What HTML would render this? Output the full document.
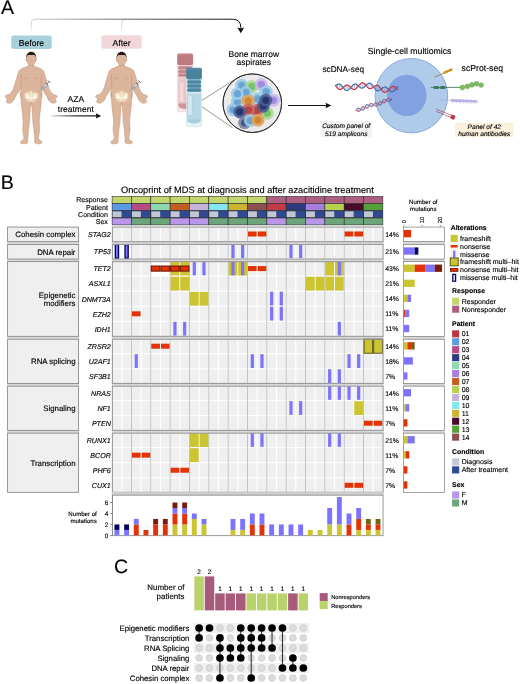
<!DOCTYPE html>
<html lang="en">
<head>
<meta charset="utf-8">
<title>Oncoprint of MDS at diagnosis and after azacitidine treatment</title>
<style>
html,body{margin:0;padding:0;background:#fff;}
body{width:520px;height:684px;overflow:hidden;font-family:"Liberation Sans",sans-serif;}
svg{display:block;}
svg text{stroke:#000;stroke-width:0.14px;}
</style>
</head>
<body>
<svg width="520" height="684" viewBox="0 0 520 684" font-family="'Liberation Sans', sans-serif" fill="#000" text-rendering="geometricPrecision">
<rect width="520" height="684" fill="#fff"/>
<text x="0.9" y="14.0" font-size="19.5" fill="#000">A</text>
<text x="0.7" y="188.8" font-size="19.5" fill="#000">B</text>
<text x="113.9" y="573.0" font-size="19.5" fill="#000">C</text>
<defs>
<linearGradient id="lg" gradientUnits="userSpaceOnUse" x1="30" y1="0" x2="235" y2="0"><stop offset="0" stop-color="#cfcfcf"/><stop offset="0.45" stop-color="#6a6a6a"/><stop offset="1" stop-color="#111"/></linearGradient>
<linearGradient id="fade" gradientUnits="userSpaceOnUse" x1="0" y1="19" x2="0" y2="33"><stop offset="0" stop-color="#bdbdbd"/><stop offset="0.6" stop-color="#d8d8d8"/><stop offset="1" stop-color="#ffffff"/></linearGradient>
<linearGradient id="arr" gradientUnits="userSpaceOnUse" x1="51" y1="0" x2="100" y2="0"><stop offset="0" stop-color="#111" stop-opacity="0.15"/><stop offset="0.5" stop-color="#111" stop-opacity="0.85"/><stop offset="1" stop-color="#111"/></linearGradient>
<radialGradient id="pelv" cx="0.5" cy="0.5" r="0.5"><stop offset="0" stop-color="#f6ecd0" stop-opacity="0.95"/><stop offset="0.6" stop-color="#efe0bc" stop-opacity="0.75"/><stop offset="1" stop-color="#e6d0ae" stop-opacity="0"/></radialGradient>
</defs>
<path d="M31.2 34V23.5Q31.2 19.2 36 19.2" fill="none" stroke="url(#fade)" stroke-width="0.9"/>
<path d="M121.7 34V23.5Q121.7 19.2 126 19.2" fill="none" stroke="url(#fade)" stroke-width="0.9"/>
<path d="M35.5 19.2H232.5Q240.8 19.2 240.8 27.5V29" fill="none" stroke="url(#lg)" stroke-width="1.0"/>
<path d="M237.4 27.6L240.8 33.2L244.2 27.6Q240.8 29.2 237.4 27.6Z" fill="#111"/>
<rect x="11.2" y="35.4" width="40.6" height="13.5" rx="2.4" fill="#a9d1dc"/>
<text x="31.5" y="45.5" font-size="8.6" text-anchor="middle" fill="#000">Before</text>
<rect x="101.3" y="35.2" width="40.4" height="13.6" rx="2.4" fill="#f1d7da"/>
<text x="121.6" y="45.5" font-size="8.6" text-anchor="middle" fill="#000">After</text>
<path d="M31.20 63.80C30.37 63.80 29.18 63.93 28.70 64.30C28.22 64.67 28.88 65.52 28.30 66.00C27.72 66.48 26.38 66.72 25.20 67.20C24.02 67.68 22.25 68.27 21.20 68.90C20.15 69.53 19.50 69.98 18.90 71.00C18.30 72.02 18.07 73.55 17.60 75.00C17.13 76.45 16.78 77.50 16.10 79.70C15.42 81.90 14.50 85.88 13.50 88.20C12.50 90.52 11.15 92.47 10.10 93.60C9.05 94.73 8.02 94.60 7.20 95.00C6.38 95.40 5.40 95.53 5.20 96.00C5.00 96.47 5.67 97.28 6.00 97.80C6.33 98.32 7.18 98.43 7.20 99.10C7.22 99.77 5.98 101.13 6.10 101.80C6.22 102.47 7.15 102.92 7.90 103.10C8.65 103.28 9.60 103.37 10.60 102.90C11.60 102.43 13.08 101.33 13.90 100.30C14.72 99.27 14.72 98.08 15.50 96.70C16.28 95.32 17.70 93.35 18.60 92.00C19.50 90.65 20.62 88.17 20.90 88.60C21.18 89.03 20.28 92.95 20.30 94.60C20.32 96.25 20.83 96.93 21.00 98.50C21.17 100.07 21.13 102.08 21.30 104.00C21.47 105.92 21.77 108.00 22.00 110.00C22.23 112.00 22.52 114.05 22.70 116.00C22.88 117.95 23.10 119.37 23.10 121.70C23.10 124.03 22.63 127.78 22.70 130.00C22.77 132.22 23.32 133.60 23.50 135.00C23.68 136.40 24.02 137.50 23.80 138.40C23.58 139.30 22.77 139.83 22.20 140.40C21.63 140.97 20.57 141.30 20.40 141.80C20.23 142.30 20.40 143.07 21.20 143.40C22.00 143.73 24.13 143.93 25.20 143.80C26.27 143.67 27.17 143.50 27.60 142.60C28.03 141.70 27.65 140.50 27.80 138.40C27.95 136.30 28.27 132.23 28.50 130.00C28.73 127.77 29.02 126.38 29.20 125.00C29.38 123.62 29.45 123.87 29.60 121.70C29.75 119.53 29.93 114.62 30.10 112.00C30.27 109.38 30.42 107.63 30.60 106.00C30.78 104.37 31.00 102.20 31.20 102.20C31.40 102.20 31.62 104.37 31.80 106.00C31.98 107.63 32.13 109.38 32.30 112.00C32.47 114.62 32.65 119.53 32.80 121.70C32.95 123.87 33.02 123.62 33.20 125.00C33.38 126.38 33.67 127.77 33.90 130.00C34.13 132.23 34.45 136.30 34.60 138.40C34.75 140.50 34.37 141.70 34.80 142.60C35.23 143.50 36.13 143.67 37.20 143.80C38.27 143.93 40.40 143.73 41.20 143.40C42.00 143.07 42.17 142.30 42.00 141.80C41.83 141.30 40.77 140.97 40.20 140.40C39.63 139.83 38.82 139.30 38.60 138.40C38.38 137.50 38.72 136.40 38.90 135.00C39.08 133.60 39.63 132.22 39.70 130.00C39.77 127.78 39.30 124.03 39.30 121.70C39.30 119.37 39.52 117.95 39.70 116.00C39.88 114.05 40.17 112.00 40.40 110.00C40.63 108.00 40.93 105.92 41.10 104.00C41.27 102.08 41.23 100.07 41.40 98.50C41.57 96.93 42.08 96.25 42.10 94.60C42.12 92.95 41.22 89.03 41.50 88.60C41.78 88.17 42.90 90.65 43.80 92.00C44.70 93.35 46.12 95.32 46.90 96.70C47.68 98.08 47.68 99.27 48.50 100.30C49.32 101.33 50.80 102.43 51.80 102.90C52.80 103.37 53.75 103.28 54.50 103.10C55.25 102.92 56.18 102.47 56.30 101.80C56.42 101.13 55.18 99.77 55.20 99.10C55.22 98.43 56.07 98.32 56.40 97.80C56.73 97.28 57.40 96.47 57.20 96.00C57.00 95.53 56.02 95.40 55.20 95.00C54.38 94.60 53.35 94.73 52.30 93.60C51.25 92.47 49.90 90.52 48.90 88.20C47.90 85.88 46.98 81.90 46.30 79.70C45.62 77.50 45.27 76.45 44.80 75.00C44.33 73.55 44.10 72.02 43.50 71.00C42.90 69.98 42.25 69.53 41.20 68.90C40.15 68.27 38.38 67.68 37.20 67.20C36.02 66.72 34.68 66.48 34.10 66.00C33.52 65.52 34.18 64.67 33.70 64.30C33.22 63.93 32.03 63.80 31.20 63.80Z" fill="#dbb59c" stroke="#b98c72" stroke-width="0.45" stroke-linejoin="round"/>
<path d="M31.2 102.2V105" stroke="#b98c72" stroke-width="0.5"/>
<ellipse cx="26.4" cy="59.8" rx="0.6" ry="1.3" fill="#dbb59c" stroke="#b98c72" stroke-width="0.3"/>
<ellipse cx="36.0" cy="59.8" rx="0.6" ry="1.3" fill="#dbb59c" stroke="#b98c72" stroke-width="0.3"/>
<path d="M20.9 88.6C21.6 84 21.6 79 20.799999999999997 74.2M41.5 88.6C40.8 84 40.8 79 41.6 74.2" fill="none" stroke="#b98c72" stroke-width="0.5"/>
<path d="M26.5 58.0C26.4 53.2 36.0 53.2 35.9 58.0C35.8 62.5 33.8 65.6 31.2 65.6C28.599999999999998 65.6 26.6 62.5 26.5 58.0Z" fill="#dbb59c" stroke="#b98c72" stroke-width="0.4"/>
<path d="M26.2 58.8C25.4 49.4 37.0 49.4 36.2 58.8C35.8 56.2 35.0 55.2 34.0 55.1C32.2 54.8 30.2 54.8 28.4 55.1C27.4 55.2 26.6 56.2 26.2 58.8Z" fill="#241b17"/>
<path d="M24.0 78.2Q26.4 79.6 28.599999999999998 78.4M38.4 78.2Q36.0 79.6 33.8 78.4" fill="none" stroke="#b98c72" stroke-width="0.45"/>
<circle cx="26.0" cy="77.1" r="0.4" fill="#b98a70"/><circle cx="36.4" cy="77.1" r="0.4" fill="#b98a70"/>
<path d="M20.6 92.5Q21.6 95.5 20.9 98.2M41.8 92.5Q40.8 95.5 41.5 98.2" fill="none" stroke="#b98c72" stroke-width="0.4"/>
<ellipse cx="31.2" cy="96.6" rx="8.4" ry="6.8" fill="url(#pelv)"/>
<path d="M25.0 92.3C26.799999999999997 90.8 29.0 92.6 29.9 95.4L32.5 95.4C33.4 92.6 35.6 90.8 37.4 92.3C37.8 95.0 36.4 97.0 34.6 97.6C34.8 99.4 33.4 100.6 31.8 99.8L30.599999999999998 99.8C29.0 100.6 27.599999999999998 99.4 27.8 97.6C26.0 97.0 24.6 95.0 25.0 92.3Z" fill="#f8f0d8" stroke="#e6d6ac" stroke-width="0.4" transform="translate(0 1.3)"/>
<path d="M31.2 91.6V96.5" stroke="#f4ead0" stroke-width="1.3" stroke-linecap="round"/>
<ellipse cx="27.0" cy="97.6" rx="1.5" ry="1.0" fill="#ffffff" opacity="0.9"/><ellipse cx="35.4" cy="97.6" rx="1.5" ry="1.0" fill="#ffffff" opacity="0.9"/>
<ellipse cx="29.5" cy="99.8" rx="0.8" ry="0.9" fill="#dbb59c" opacity="0.8"/><ellipse cx="32.9" cy="99.8" rx="0.8" ry="0.9" fill="#dbb59c" opacity="0.8"/>
<g transform="translate(38.8 92.0) rotate(-45)">
<path d="M0 0H3.6" stroke="#8a8f96" stroke-width="0.45"/>
<rect x="3.6" y="-1.25" width="7.6" height="2.5" rx="0.4" fill="#cfd5db" stroke="#6f757c" stroke-width="0.4"/>
<rect x="4.4" y="-0.85" width="3.2" height="1.7" fill="#9aa3ad"/>
<path d="M11.2 -1.9V1.9" stroke="#5d636a" stroke-width="0.7"/>
<path d="M11.2 0H14.6" stroke="#6f757c" stroke-width="0.8"/>
<path d="M14.7 -1.7V1.7" stroke="#4e545a" stroke-width="0.8"/>
</g>
<path d="M121.60 63.80C120.77 63.80 119.58 63.93 119.10 64.30C118.62 64.67 119.28 65.52 118.70 66.00C118.12 66.48 116.78 66.72 115.60 67.20C114.42 67.68 112.65 68.27 111.60 68.90C110.55 69.53 109.90 69.98 109.30 71.00C108.70 72.02 108.47 73.55 108.00 75.00C107.53 76.45 107.18 77.50 106.50 79.70C105.82 81.90 104.90 85.88 103.90 88.20C102.90 90.52 101.55 92.47 100.50 93.60C99.45 94.73 98.42 94.60 97.60 95.00C96.78 95.40 95.80 95.53 95.60 96.00C95.40 96.47 96.07 97.28 96.40 97.80C96.73 98.32 97.58 98.43 97.60 99.10C97.62 99.77 96.38 101.13 96.50 101.80C96.62 102.47 97.55 102.92 98.30 103.10C99.05 103.28 100.00 103.37 101.00 102.90C102.00 102.43 103.48 101.33 104.30 100.30C105.12 99.27 105.12 98.08 105.90 96.70C106.68 95.32 108.10 93.35 109.00 92.00C109.90 90.65 111.02 88.17 111.30 88.60C111.58 89.03 110.68 92.95 110.70 94.60C110.72 96.25 111.23 96.93 111.40 98.50C111.57 100.07 111.53 102.08 111.70 104.00C111.87 105.92 112.17 108.00 112.40 110.00C112.63 112.00 112.92 114.05 113.10 116.00C113.28 117.95 113.50 119.37 113.50 121.70C113.50 124.03 113.03 127.78 113.10 130.00C113.17 132.22 113.72 133.60 113.90 135.00C114.08 136.40 114.42 137.50 114.20 138.40C113.98 139.30 113.17 139.83 112.60 140.40C112.03 140.97 110.97 141.30 110.80 141.80C110.63 142.30 110.80 143.07 111.60 143.40C112.40 143.73 114.53 143.93 115.60 143.80C116.67 143.67 117.57 143.50 118.00 142.60C118.43 141.70 118.05 140.50 118.20 138.40C118.35 136.30 118.67 132.23 118.90 130.00C119.13 127.77 119.42 126.38 119.60 125.00C119.78 123.62 119.85 123.87 120.00 121.70C120.15 119.53 120.33 114.62 120.50 112.00C120.67 109.38 120.82 107.63 121.00 106.00C121.18 104.37 121.40 102.20 121.60 102.20C121.80 102.20 122.02 104.37 122.20 106.00C122.38 107.63 122.53 109.38 122.70 112.00C122.87 114.62 123.05 119.53 123.20 121.70C123.35 123.87 123.42 123.62 123.60 125.00C123.78 126.38 124.07 127.77 124.30 130.00C124.53 132.23 124.85 136.30 125.00 138.40C125.15 140.50 124.77 141.70 125.20 142.60C125.63 143.50 126.53 143.67 127.60 143.80C128.67 143.93 130.80 143.73 131.60 143.40C132.40 143.07 132.57 142.30 132.40 141.80C132.23 141.30 131.17 140.97 130.60 140.40C130.03 139.83 129.22 139.30 129.00 138.40C128.78 137.50 129.12 136.40 129.30 135.00C129.48 133.60 130.03 132.22 130.10 130.00C130.17 127.78 129.70 124.03 129.70 121.70C129.70 119.37 129.92 117.95 130.10 116.00C130.28 114.05 130.57 112.00 130.80 110.00C131.03 108.00 131.33 105.92 131.50 104.00C131.67 102.08 131.63 100.07 131.80 98.50C131.97 96.93 132.48 96.25 132.50 94.60C132.52 92.95 131.62 89.03 131.90 88.60C132.18 88.17 133.30 90.65 134.20 92.00C135.10 93.35 136.52 95.32 137.30 96.70C138.08 98.08 138.08 99.27 138.90 100.30C139.72 101.33 141.20 102.43 142.20 102.90C143.20 103.37 144.15 103.28 144.90 103.10C145.65 102.92 146.58 102.47 146.70 101.80C146.82 101.13 145.58 99.77 145.60 99.10C145.62 98.43 146.47 98.32 146.80 97.80C147.13 97.28 147.80 96.47 147.60 96.00C147.40 95.53 146.42 95.40 145.60 95.00C144.78 94.60 143.75 94.73 142.70 93.60C141.65 92.47 140.30 90.52 139.30 88.20C138.30 85.88 137.38 81.90 136.70 79.70C136.02 77.50 135.67 76.45 135.20 75.00C134.73 73.55 134.50 72.02 133.90 71.00C133.30 69.98 132.65 69.53 131.60 68.90C130.55 68.27 128.78 67.68 127.60 67.20C126.42 66.72 125.08 66.48 124.50 66.00C123.92 65.52 124.58 64.67 124.10 64.30C123.62 63.93 122.43 63.80 121.60 63.80Z" fill="#dbb59c" stroke="#b98c72" stroke-width="0.45" stroke-linejoin="round"/>
<path d="M121.6 102.2V105" stroke="#b98c72" stroke-width="0.5"/>
<ellipse cx="116.8" cy="59.8" rx="0.6" ry="1.3" fill="#dbb59c" stroke="#b98c72" stroke-width="0.3"/>
<ellipse cx="126.39999999999999" cy="59.8" rx="0.6" ry="1.3" fill="#dbb59c" stroke="#b98c72" stroke-width="0.3"/>
<path d="M111.3 88.6C112.0 84 112.0 79 111.19999999999999 74.2M131.9 88.6C131.2 84 131.2 79 132.0 74.2" fill="none" stroke="#b98c72" stroke-width="0.5"/>
<path d="M116.89999999999999 58.0C116.8 53.2 126.39999999999999 53.2 126.3 58.0C126.19999999999999 62.5 124.19999999999999 65.6 121.6 65.6C119.0 65.6 117.0 62.5 116.89999999999999 58.0Z" fill="#dbb59c" stroke="#b98c72" stroke-width="0.4"/>
<path d="M116.6 58.8C115.8 49.4 127.39999999999999 49.4 126.6 58.8C126.19999999999999 56.2 125.39999999999999 55.2 124.39999999999999 55.1C122.6 54.8 120.6 54.8 118.8 55.1C117.8 55.2 117.0 56.2 116.6 58.8Z" fill="#241b17"/>
<path d="M114.39999999999999 78.2Q116.8 79.6 119.0 78.4M128.79999999999998 78.2Q126.39999999999999 79.6 124.19999999999999 78.4" fill="none" stroke="#b98c72" stroke-width="0.45"/>
<circle cx="116.39999999999999" cy="77.1" r="0.4" fill="#b98a70"/><circle cx="126.8" cy="77.1" r="0.4" fill="#b98a70"/>
<path d="M111.0 92.5Q112.0 95.5 111.3 98.2M132.2 92.5Q131.2 95.5 131.9 98.2" fill="none" stroke="#b98c72" stroke-width="0.4"/>
<ellipse cx="121.6" cy="96.6" rx="8.4" ry="6.8" fill="url(#pelv)"/>
<path d="M115.39999999999999 92.3C117.19999999999999 90.8 119.39999999999999 92.6 120.3 95.4L122.89999999999999 95.4C123.8 92.6 126.0 90.8 127.8 92.3C128.2 95.0 126.8 97.0 125.0 97.6C125.19999999999999 99.4 123.8 100.6 122.19999999999999 99.8L121.0 99.8C119.39999999999999 100.6 118.0 99.4 118.19999999999999 97.6C116.39999999999999 97.0 115.0 95.0 115.39999999999999 92.3Z" fill="#f8f0d8" stroke="#e6d6ac" stroke-width="0.4" transform="translate(0 1.3)"/>
<path d="M121.6 91.6V96.5" stroke="#f4ead0" stroke-width="1.3" stroke-linecap="round"/>
<ellipse cx="117.39999999999999" cy="97.6" rx="1.5" ry="1.0" fill="#ffffff" opacity="0.9"/><ellipse cx="125.8" cy="97.6" rx="1.5" ry="1.0" fill="#ffffff" opacity="0.9"/>
<ellipse cx="119.89999999999999" cy="99.8" rx="0.8" ry="0.9" fill="#dbb59c" opacity="0.8"/><ellipse cx="123.3" cy="99.8" rx="0.8" ry="0.9" fill="#dbb59c" opacity="0.8"/>
<g transform="translate(129.2 92.0) rotate(-45)">
<path d="M0 0H3.6" stroke="#8a8f96" stroke-width="0.45"/>
<rect x="3.6" y="-1.25" width="7.6" height="2.5" rx="0.4" fill="#cfd5db" stroke="#6f757c" stroke-width="0.4"/>
<rect x="4.4" y="-0.85" width="3.2" height="1.7" fill="#9aa3ad"/>
<path d="M11.2 -1.9V1.9" stroke="#5d636a" stroke-width="0.7"/>
<path d="M11.2 0H14.6" stroke="#6f757c" stroke-width="0.8"/>
<path d="M14.7 -1.7V1.7" stroke="#4e545a" stroke-width="0.8"/>
</g>
<text x="75.8" y="102.4" font-size="8.5" text-anchor="middle" fill="#000">AZA</text>
<text x="75.8" y="111.6" font-size="8.5" text-anchor="middle" fill="#000">treatment</text>
<path d="M51.5 115.9H97.5" stroke="url(#arr)" stroke-width="1.35" fill="none"/>
<path d="M95.8 113.2L101.2 115.9L95.8 118.6Q97.1 115.9 95.8 113.2Z" fill="#111"/>
<rect x="177.4" y="64.2" width="15.5" height="47.6" rx="1.6" fill="#f6e3e5" stroke="#e3bfc3" stroke-width="0.4"/>
<path d="M178.4 77.4H191.9V104.5Q191.9 108.9 185.2 108.9Q178.4 108.9 178.4 104.5Z" fill="#ecc6ca"/>
<path d="M178.4 103.5H191.9V104.5Q191.9 108.9 185.2 108.9Q178.4 108.9 178.4 104.5Z" fill="#cf949a"/>
<rect x="179.3" y="81.5" width="4.6" height="20.5" rx="0.8" fill="#f3d9dc" stroke="#dcaeb3" stroke-width="0.4"/>
<rect x="178.6" y="65.5" width="13.1" height="11.4" fill="#e2b4b8"/>
<rect x="178.2" y="66.6" width="13.9" height="2.7" rx="1.1" fill="#c4858a"/><rect x="178.2" y="70.2" width="13.9" height="2.7" rx="1.1" fill="#c4858a"/><rect x="178.2" y="73.8" width="13.9" height="2.7" rx="1.1" fill="#c4858a"/>
<rect x="177.2" y="53.5" width="15.9" height="11.6" rx="1.5" fill="#c07a7f"/>
<path d="M177.2 55.2Q185.2 53.3 193.1 55.2" stroke="#cf9498" stroke-width="0.6" fill="none"/>
<rect x="186.3" y="78.5" width="15.5" height="48.2" rx="1.6" fill="#e6f2f6" stroke="#b7d6e0" stroke-width="0.4"/>
<path d="M187.1 93.6H201.0V119.0Q201.0 123.4 194.1 123.4Q187.1 123.4 187.1 119.0Z" fill="#b7d9e5"/>
<path d="M187.1 119.6H201.0Q201.0 123.4 194.1 123.4Q187.1 123.4 187.1 119.6Z" fill="#a6cfdd"/>
<rect x="187.6" y="95.0" width="4.6" height="20.6" rx="0.8" fill="#d4e9f0" stroke="#9bc3d2" stroke-width="0.45"/>
<rect x="187.6" y="79.0" width="13.0" height="13.2" fill="#86b2c6"/>
<rect x="187.2" y="80.4" width="13.8" height="3.0" rx="1.2" fill="#4d86a1"/><rect x="187.2" y="84.4" width="13.8" height="3.0" rx="1.2" fill="#4d86a1"/><rect x="187.2" y="88.4" width="13.8" height="3.0" rx="1.2" fill="#4d86a1"/>
<rect x="186.2" y="67.8" width="15.7" height="11.2" rx="1.5" fill="#4a819c"/>
<path d="M186.2 69.6Q194.1 67.6 201.9 69.6" stroke="#6a9db5" stroke-width="0.6" fill="none"/>
<path d="M201.9 100.4L233.5 80.2M201.9 106.8L232.5 127.6" stroke="#444" stroke-width="0.55" fill="none"/>
<circle cx="252.3" cy="103.2" r="29.3" fill="#ebebeb" stroke="#222" stroke-width="0.8"/>
<circle cx="233.0" cy="109.7" r="6.3" fill="#9fcde8" fill-opacity="0.9" stroke="#6fa9d3" stroke-opacity="0.35" stroke-width="0.5"/><circle cx="233.0" cy="109.7" r="3.8" fill="#6fa9d3"/><circle cx="233.0" cy="109.7" r="2.2" fill="#5d9bc9" fill-opacity="0.35"/>
<circle cx="237.4" cy="101.8" r="6.3" fill="#9fcde8" fill-opacity="0.9" stroke="#6fa9d3" stroke-opacity="0.35" stroke-width="0.5"/><circle cx="237.4" cy="101.8" r="3.8" fill="#6fa9d3"/><circle cx="237.4" cy="101.8" r="2.2" fill="#5d9bc9" fill-opacity="0.35"/>
<circle cx="241.7" cy="85.2" r="6.3" fill="#9fcde8" fill-opacity="0.9" stroke="#6fa9d3" stroke-opacity="0.35" stroke-width="0.5"/><circle cx="241.7" cy="85.2" r="3.8" fill="#6fa9d3"/><circle cx="241.7" cy="85.2" r="2.2" fill="#5d9bc9" fill-opacity="0.35"/>
<circle cx="251.8" cy="86.6" r="6.3" fill="#a6dd95" fill-opacity="0.9" stroke="#7dc56c" stroke-opacity="0.35" stroke-width="0.5"/><circle cx="251.8" cy="86.6" r="3.8" fill="#7dc56c"/><circle cx="251.8" cy="86.6" r="2.2" fill="#6ab85a" fill-opacity="0.35"/>
<circle cx="261.2" cy="84.5" r="6.3" fill="#cbb9f0" fill-opacity="0.9" stroke="#a68fe2" stroke-opacity="0.35" stroke-width="0.5"/><circle cx="261.2" cy="84.5" r="3.8" fill="#a68fe2"/><circle cx="261.2" cy="84.5" r="2.2" fill="#957cd8" fill-opacity="0.35"/>
<circle cx="266.2" cy="91.7" r="6.3" fill="#9fcde8" fill-opacity="0.9" stroke="#6fa9d3" stroke-opacity="0.35" stroke-width="0.5"/><circle cx="266.2" cy="91.7" r="3.8" fill="#6fa9d3"/><circle cx="266.2" cy="91.7" r="2.2" fill="#5d9bc9" fill-opacity="0.35"/>
<circle cx="273.4" cy="100.3" r="6.3" fill="#cbb9f0" fill-opacity="0.9" stroke="#a68fe2" stroke-opacity="0.35" stroke-width="0.5"/><circle cx="273.4" cy="100.3" r="3.8" fill="#a68fe2"/><circle cx="273.4" cy="100.3" r="2.2" fill="#957cd8" fill-opacity="0.35"/>
<circle cx="257.5" cy="98.9" r="6.3" fill="#9fcde8" fill-opacity="0.9" stroke="#6fa9d3" stroke-opacity="0.35" stroke-width="0.5"/><circle cx="257.5" cy="98.9" r="3.8" fill="#6fa9d3"/><circle cx="257.5" cy="98.9" r="2.2" fill="#5d9bc9" fill-opacity="0.35"/>
<circle cx="246.0" cy="92.4" r="6.3" fill="#9fcde8" fill-opacity="0.9" stroke="#6fa9d3" stroke-opacity="0.35" stroke-width="0.5"/><circle cx="246.0" cy="92.4" r="3.8" fill="#6fa9d3"/><circle cx="246.0" cy="92.4" r="2.2" fill="#5d9bc9" fill-opacity="0.35"/>
<circle cx="237.4" cy="93.8" r="6.3" fill="#9fcde8" fill-opacity="0.9" stroke="#6fa9d3" stroke-opacity="0.35" stroke-width="0.5"/><circle cx="237.4" cy="93.8" r="3.8" fill="#6fa9d3"/><circle cx="237.4" cy="93.8" r="2.2" fill="#5d9bc9" fill-opacity="0.35"/>
<circle cx="248.2" cy="101.0" r="6.3" fill="#e3a455" fill-opacity="0.9" stroke="#d28a3a" stroke-opacity="0.35" stroke-width="0.5"/><circle cx="248.2" cy="101.0" r="3.8" fill="#d28a3a"/><circle cx="248.2" cy="101.0" r="2.2" fill="#c77d30" fill-opacity="0.35"/>
<circle cx="267.2" cy="113.3" r="6.3" fill="#a6dd95" fill-opacity="0.9" stroke="#7dc56c" stroke-opacity="0.35" stroke-width="0.5"/><circle cx="267.2" cy="113.3" r="3.8" fill="#7dc56c"/><circle cx="267.2" cy="113.3" r="2.2" fill="#6ab85a" fill-opacity="0.35"/>
<circle cx="256.8" cy="110.4" r="6.3" fill="#cb6868" fill-opacity="0.9" stroke="#b64a4a" stroke-opacity="0.35" stroke-width="0.5"/><circle cx="256.8" cy="110.4" r="3.8" fill="#b64a4a"/><circle cx="256.8" cy="110.4" r="2.2" fill="#a83e3e" fill-opacity="0.35"/>
<circle cx="248.5" cy="110.0" r="6.3" fill="#cb6868" fill-opacity="0.9" stroke="#b64a4a" stroke-opacity="0.35" stroke-width="0.5"/><circle cx="248.5" cy="110.0" r="3.8" fill="#b64a4a"/><circle cx="248.5" cy="110.0" r="2.2" fill="#a83e3e" fill-opacity="0.35"/>
<circle cx="239.8" cy="111.9" r="6.3" fill="#4d5d93" fill-opacity="0.9" stroke="#2c3a72" stroke-opacity="0.35" stroke-width="0.5"/><circle cx="239.8" cy="111.9" r="3.8" fill="#2c3a72"/><circle cx="239.8" cy="111.9" r="2.2" fill="#222f63" fill-opacity="0.35"/>
<circle cx="263.3" cy="106.1" r="6.3" fill="#4d5d93" fill-opacity="0.9" stroke="#2c3a72" stroke-opacity="0.35" stroke-width="0.5"/><circle cx="263.3" cy="106.1" r="3.8" fill="#2c3a72"/><circle cx="263.3" cy="106.1" r="2.2" fill="#222f63" fill-opacity="0.35"/>
<circle cx="265.8" cy="100.3" r="6.3" fill="#4d5d93" fill-opacity="0.9" stroke="#2c3a72" stroke-opacity="0.35" stroke-width="0.5"/><circle cx="265.8" cy="100.3" r="3.8" fill="#2c3a72"/><circle cx="265.8" cy="100.3" r="2.2" fill="#222f63" fill-opacity="0.35"/>
<circle cx="244.6" cy="122.7" r="6.3" fill="#7784a8" fill-opacity="0.9" stroke="#4b5a88" stroke-opacity="0.35" stroke-width="0.5"/><circle cx="244.6" cy="122.7" r="3.8" fill="#4b5a88"/><circle cx="244.6" cy="122.7" r="2.2" fill="#3c4a78" fill-opacity="0.35"/>
<circle cx="250.3" cy="120.5" r="6.3" fill="#9fcde8" fill-opacity="0.9" stroke="#6fa9d3" stroke-opacity="0.35" stroke-width="0.5"/><circle cx="250.3" cy="120.5" r="3.8" fill="#6fa9d3"/><circle cx="250.3" cy="120.5" r="2.2" fill="#5d9bc9" fill-opacity="0.35"/>
<circle cx="258.0" cy="120.2" r="6.3" fill="#e3a455" fill-opacity="0.9" stroke="#d28a3a" stroke-opacity="0.35" stroke-width="0.5"/><circle cx="258.0" cy="120.2" r="3.8" fill="#d28a3a"/><circle cx="258.0" cy="120.2" r="2.2" fill="#c77d30" fill-opacity="0.35"/>
<circle cx="252.3" cy="103.2" r="29.3" fill="none" stroke="#222" stroke-width="0.8"/>
<text x="253.8" y="57.3" font-size="8.5" text-anchor="middle" fill="#000">Bone marrow</text>
<text x="253.8" y="65.4" font-size="8.5" text-anchor="middle" fill="#000">aspirates</text>
<path d="M288 105.5H327" stroke="#111" stroke-width="1.2"/>
<path d="M325.6 102.8L331.3 105.5L325.6 108.2Q326.9 105.5 325.6 102.8Z" fill="#111"/>
<ellipse cx="411.4" cy="95.7" rx="36.3" ry="37.2" fill="#b0cbe9" stroke="#7fa4de" stroke-width="0.9"/>
<ellipse cx="406.8" cy="95.4" rx="19.7" ry="20.6" fill="#82a1e0"/>
<text x="409.6" y="54.0" font-size="8.7" text-anchor="middle" fill="#000">Single-cell multiomics</text>
<text x="322.4" y="71.6" font-size="8.25" fill="#000">scDNA-seq</text>
<text x="461.6" y="71.4" font-size="8.7" fill="#000">scProt-seq</text>
<g transform="translate(335.6 85.6) rotate(2.76)" fill="none" stroke-linecap="round">
<path d="M1.90 2.41V-1.41M3.80 3.66V-1.74M5.70 3.24V-0.58M9.50 -0.21V3.60M11.40 -1.04V4.36M13.30 -0.43V3.39M17.10 2.66V-1.16M19.00 2.97V-2.43M20.90 1.67V-2.15M24.70 -3.05V0.77M26.60 -4.16V1.24M28.50 -3.56V0.26M32.30 0.32V-3.50M34.20 1.36V-4.04M36.10 0.93V-2.89M39.90 -1.94V1.88M41.80 -2.23V3.17M43.70 -0.98V2.84M47.50 3.48V-0.34M49.40 4.39V-1.01M51.30 3.57V-0.24M55.10 -0.73V3.09M57.00 -1.93V3.47M58.90 -1.62V2.20" stroke="#8a7fb0" stroke-width="0.57"/>
<path d="M0.00 0.00L0.50 -0.42L1.00 -0.82L1.51 -1.18L2.01 -1.47L2.51 -1.67L3.01 -1.78L3.52 -1.79L4.02 -1.69L4.52 -1.47L5.02 -1.16L5.52 -0.75L6.03 -0.26L6.53 0.30L7.03 0.89L7.53 1.50L8.04 2.10L8.54 2.68L9.04 3.19L9.54 3.64L10.04 3.99L10.55 4.23L11.05 4.35L11.55 4.34L12.05 4.21L12.55 3.96L13.06 3.60L13.56 3.14L14.06 2.59L14.56 1.98L15.07 1.34L15.57 0.68L16.07 0.03L16.57 -0.58L17.07 -1.14L17.58 -1.61L18.08 -2.00L18.58 -2.28L19.08 -2.45L19.59 -2.51L20.09 -2.46L20.59 -2.29L21.09 -2.04L21.59 -1.71L22.10 -1.32L22.60 -0.90L23.10 -0.46L23.60 -0.03L24.11 0.37L24.61 0.71L25.11 0.98L25.61 1.17L26.11 1.25L26.62 1.23L27.12 1.11L27.62 0.88L28.12 0.56L28.63 0.15L29.13 -0.33L29.63 -0.85L30.13 -1.40L30.63 -1.95L31.14 -2.48L31.64 -2.97L32.14 -3.38L32.64 -3.72L33.14 -3.94L33.65 -4.06L34.15 -4.05L34.65 -3.92L35.15 -3.67L35.66 -3.30L36.16 -2.83L36.66 -2.27L37.16 -1.65L37.66 -0.98L38.17 -0.30L38.67 0.38L39.17 1.04L39.67 1.64L40.18 2.16L40.68 2.60L41.18 2.93L41.68 3.14L42.18 3.24L42.69 3.22L43.19 3.08L43.69 2.85L44.19 2.52L44.70 2.13L45.20 1.69L45.70 1.22L46.20 0.74L46.70 0.29L47.21 -0.13L47.71 -0.48L48.21 -0.75L48.71 -0.93L49.22 -1.01L49.72 -0.98L50.22 -0.85L50.72 -0.62L51.22 -0.30L51.73 0.09L52.23 0.54L52.73 1.03L53.23 1.52L53.73 2.01L54.24 2.46L54.74 2.85L55.24 3.17L55.74 3.40L56.25 3.52L56.75 3.52L57.25 3.40L57.75 3.16L58.25 2.81L58.76 2.35L59.26 1.80L59.76 1.19L60.26 0.52L60.77 -0.17L61.27 -0.86L61.77 -1.52L62.27 -2.14" stroke="#2f6fb2" stroke-width="1.15"/>
<path d="M0.00 0.00L0.50 0.69L1.00 1.36L1.51 1.97L2.01 2.52L2.51 2.98L3.01 3.33L3.52 3.57L4.02 3.69L4.52 3.69L5.02 3.57L5.52 3.34L6.03 3.01L6.53 2.61L7.03 2.15L7.53 1.65L8.04 1.14L8.54 0.64L9.04 0.17L9.54 -0.25L10.04 -0.59L10.55 -0.84L11.05 -0.99L11.55 -1.04L12.05 -0.99L12.55 -0.83L13.06 -0.58L13.56 -0.25L14.06 0.14L14.56 0.58L15.07 1.04L15.57 1.50L16.07 1.93L16.57 2.32L17.07 2.64L17.58 2.88L18.08 3.01L18.58 3.04L19.08 2.94L19.59 2.73L20.09 2.41L20.59 1.98L21.09 1.46L21.59 0.87L22.10 0.22L22.60 -0.45L23.10 -1.13L23.60 -1.79L24.11 -2.41L24.61 -2.96L25.11 -3.43L25.61 -3.79L26.11 -4.04L26.62 -4.17L27.12 -4.17L27.62 -4.05L28.12 -3.81L28.63 -3.47L29.13 -3.04L29.63 -2.54L30.13 -2.00L30.63 -1.43L31.14 -0.86L31.64 -0.32L32.14 0.17L32.64 0.60L33.14 0.95L33.65 1.20L34.15 1.35L34.65 1.39L35.15 1.32L35.66 1.15L36.16 0.90L36.66 0.57L37.16 0.18L37.66 -0.24L38.17 -0.67L38.67 -1.09L39.17 -1.48L39.67 -1.81L40.18 -2.07L40.68 -2.23L41.18 -2.30L41.68 -2.25L42.18 -2.09L42.69 -1.82L43.19 -1.45L43.69 -0.98L44.19 -0.44L44.70 0.16L45.20 0.79L45.70 1.44L46.20 2.07L46.70 2.67L47.21 3.20L47.71 3.66L48.21 4.01L48.71 4.26L49.22 4.38L49.72 4.38L50.22 4.25L50.72 4.00L51.22 3.64L51.73 3.18L52.23 2.65L52.73 2.07L53.23 1.45L53.73 0.82L54.24 0.21L54.74 -0.35L55.24 -0.86L55.74 -1.29L56.25 -1.62L56.75 -1.85L57.25 -1.97L57.75 -1.98L58.25 -1.88L58.76 -1.69L59.26 -1.41L59.76 -1.06L60.26 -0.66L60.77 -0.24L61.27 0.18L61.77 0.59L62.27 0.95" stroke="#c8323c" stroke-width="1.15"/>
</g>
<g transform="translate(356.3 110.0) rotate(-16.71)" fill="none" stroke-linecap="round">
<path d="M1.12 1.43V-0.97M2.25 2.12V-1.28M3.38 1.76V-0.65M5.62 -0.65V1.76M6.75 -1.28V2.12M7.88 -0.97V1.43M10.12 0.97V-1.43M11.25 1.28V-2.12M12.38 0.65V-1.76M14.62 -1.76V0.65M15.75 -2.12V1.28M16.88 -1.43V0.97M19.12 1.43V-0.97M20.25 2.12V-1.28M21.38 1.76V-0.65M23.62 -0.65V1.76M24.75 -1.28V2.12M25.88 -0.97V1.43M28.12 0.97V-1.43M29.25 1.28V-2.12M30.38 0.65V-1.76M32.62 -1.76V0.65M33.75 -2.12V1.28M34.88 -1.43V0.97" stroke="#8a7fb0" stroke-width="0.42"/>
<path d="M0.00 0.00L0.50 -0.48L1.01 -0.89L1.51 -1.18L2.02 -1.29L2.52 -1.21L3.03 -0.93L3.53 -0.50L4.04 0.05L4.54 0.65L5.05 1.22L5.55 1.70L6.06 2.02L6.56 2.14L7.07 2.03L7.57 1.71L8.08 1.21L8.58 0.57L9.09 -0.12L9.59 -0.81L10.10 -1.40L10.60 -1.85L11.11 -2.09L11.61 -2.12L12.12 -1.93L12.62 -1.55L13.13 -1.03L13.63 -0.44L14.14 0.15L14.64 0.66L15.15 1.05L15.65 1.26L16.16 1.27L16.66 1.10L17.17 0.76L17.67 0.32L18.18 -0.17L18.68 -0.64L19.19 -1.01L19.69 -1.24L20.20 -1.28L20.70 -1.13L21.21 -0.80L21.71 -0.31L22.22 0.26L22.72 0.86L23.23 1.41L23.73 1.83L24.23 2.08L24.74 2.13L25.24 1.94L25.75 1.56L26.25 1.00L26.76 0.33L27.26 -0.37L27.77 -1.03L28.27 -1.58L28.78 -1.96L29.28 -2.13L29.79 -2.08L30.29 -1.82L30.80 -1.38L31.30 -0.83L31.81 -0.23L32.31 0.34L32.82 0.82L33.32 1.14L33.83 1.28L34.33 1.23L34.84 1.00L35.34 0.62L35.85 0.15L36.35 -0.34L36.86 -0.78" stroke="#2f6fb2" stroke-width="0.85"/>
<path d="M0.00 0.00L0.50 0.69L1.01 1.31L1.51 1.78L2.02 2.07L2.52 2.13L3.03 1.98L3.53 1.63L4.04 1.13L4.54 0.55L5.05 -0.05L5.55 -0.58L6.06 -0.99L6.56 -1.23L7.07 -1.28L7.57 -1.14L8.08 -0.83L8.58 -0.40L9.09 0.09L9.59 0.56L10.10 0.95L10.60 1.21L11.11 1.29L11.61 1.17L12.12 0.87L12.62 0.41L13.13 -0.16L13.63 -0.76L14.14 -1.32L14.64 -1.77L15.15 -2.06L15.65 -2.13L16.16 -1.99L16.66 -1.64L17.17 -1.11L17.67 -0.46L18.18 0.25L18.68 0.92L19.19 1.49L19.69 1.91L20.20 2.11L20.70 2.10L21.21 1.88L21.71 1.47L22.22 0.93L22.72 0.34L23.23 -0.24L23.73 -0.74L24.23 -1.10L24.74 -1.27L25.24 -1.25L25.75 -1.05L26.25 -0.69L26.76 -0.23L27.26 0.26L27.77 0.71L28.27 1.06L28.78 1.26L29.28 1.27L29.79 1.09L30.29 0.72L30.80 0.22L31.30 -0.37L31.81 -0.96L32.31 -1.49L32.82 -1.89L33.32 -2.11L33.83 -2.11L34.33 -1.89L34.84 -1.47L35.34 -0.89L35.85 -0.21L36.35 0.49L36.86 1.13" stroke="#c8323c" stroke-width="0.85"/>
</g>
<rect x="320.4" y="121.0" width="51.5" height="16.2" fill="#f3f3f6"/>
<text x="346.2" y="128.4" font-size="6.6" font-style="italic" text-anchor="middle" fill="#000">Custom panel of</text>
<text x="346.2" y="135.5" font-size="6.6" font-style="italic" text-anchor="middle" fill="#000">519 amplicons</text>
<rect x="455.1" y="122.7" width="58.5" height="14.4" fill="#fbf0dc"/>
<text x="484.3" y="128.7" font-size="6.6" font-style="italic" text-anchor="middle" fill="#000">Panel of  42</text>
<text x="484.3" y="136.2" font-size="6.6" font-style="italic" text-anchor="middle" fill="#000">human antibodies</text>
<path d="M434.4 77.3L445 72.4" stroke="#8a6410" stroke-width="0.65"/>
<path d="M444.4 72.7L451.4 69.6" stroke="#d6911c" stroke-width="2.5" stroke-linecap="round"/>
<path d="M430.8 87.4H461" stroke="#2f6f52" stroke-width="0.8"/>
<rect x="433.4" y="85.9" width="5.9" height="3.0" rx="1.5" fill="#3b7a5c"/><rect x="439.8" y="85.9" width="5.8" height="3.0" rx="1.5" fill="#3b7a5c"/>
<circle cx="462.4" cy="87.5" r="2.45" fill="#7db95e" stroke="#62a04a" stroke-width="0.4"/>
<circle cx="467.3" cy="86.4" r="2.45" fill="#7db95e" stroke="#62a04a" stroke-width="0.4"/>
<circle cx="471.9" cy="84.9" r="2.45" fill="#7db95e" stroke="#62a04a" stroke-width="0.4"/>
<circle cx="476.5" cy="83.8" r="2.45" fill="#7db95e" stroke="#62a04a" stroke-width="0.4"/>
<circle cx="481.2" cy="85.1" r="2.45" fill="#7db95e" stroke="#62a04a" stroke-width="0.4"/>
<path d="M439.6 99.7L452 100.3" stroke="#b5a6e0" stroke-width="0.7"/>
<path d="M451 99.0L476.5 100.2L478 101.3L476.5 102.6L451 101.8Z" fill="#b9aee6"/>
<path d="M452.0 98.6L452.5 103.4M453.9 99.5L454.4 102.7M455.8 98.8L456.3 103.6M457.7 99.6L458.2 102.8M459.6 98.9L460.1 103.7M461.5 99.8L462.0 103.0M463.4 99.1L463.9 103.9M465.3 99.9L465.8 103.1M467.2 99.2L467.7 104.0M469.1 100.1L469.6 103.3M471.0 99.4L471.5 104.2M472.9 100.2L473.4 103.4M474.8 99.5L475.3 104.3M476.7 100.4L477.2 103.6" stroke="#c3b6e8" stroke-width="0.6"/>
<path d="M436.0 111.3L451.4 117.7M436.4 109.2L452.0 115.6" stroke="#9a2f40" stroke-width="0.6"/>
<rect x="0" y="-2.1" width="4.4" height="4.2" rx="0.6" transform="translate(450.8 116.3) rotate(22)" fill="#c2364a"/>
<text x="247.4" y="193.3" font-size="9.27" text-anchor="middle" fill="#000">Oncoprint of MDS at diagnosis and after azacitidine treatment</text>
<text x="107.9" y="202.45" font-size="7.05" text-anchor="end">Response</text>
<text x="107.9" y="209.65" font-size="7.05" text-anchor="end">Patient</text>
<text x="107.9" y="216.85" font-size="7.05" text-anchor="end">Condition</text>
<text x="107.9" y="224.05" font-size="7.05" text-anchor="end">Sex</text>
<rect x="112.10" y="196.4" width="19.34" height="6.9" fill="#c1d66c" stroke="#222" stroke-width="0.55"/>
<rect x="112.10" y="203.6" width="19.34" height="6.9" fill="#5b9be3" stroke="#222" stroke-width="0.55"/>
<rect x="112.10" y="210.8" width="19.34" height="6.9" fill="#2f4a92" stroke="#222" stroke-width="0.55"/>
<rect x="112.60" y="211.35" width="8.92" height="5.80" fill="#c3c7d2"/>
<rect x="112.10" y="218.0" width="19.34" height="6.9" fill="#b896ea" stroke="#222" stroke-width="0.55"/>
<rect x="131.44" y="196.4" width="19.34" height="6.9" fill="#c1d66c" stroke="#222" stroke-width="0.55"/>
<rect x="131.44" y="203.6" width="19.34" height="6.9" fill="#b54a84" stroke="#222" stroke-width="0.55"/>
<rect x="131.44" y="210.8" width="19.34" height="6.9" fill="#2f4a92" stroke="#222" stroke-width="0.55"/>
<rect x="131.94" y="211.35" width="8.92" height="5.80" fill="#c3c7d2"/>
<rect x="131.44" y="218.0" width="19.34" height="6.9" fill="#6da57a" stroke="#222" stroke-width="0.55"/>
<rect x="150.78" y="196.4" width="19.34" height="6.9" fill="#c1d66c" stroke="#222" stroke-width="0.55"/>
<rect x="150.78" y="203.6" width="19.34" height="6.9" fill="#8fd9b2" stroke="#222" stroke-width="0.55"/>
<rect x="150.78" y="210.8" width="19.34" height="6.9" fill="#2f4a92" stroke="#222" stroke-width="0.55"/>
<rect x="151.28" y="211.35" width="8.92" height="5.80" fill="#c3c7d2"/>
<rect x="150.78" y="218.0" width="19.34" height="6.9" fill="#6da57a" stroke="#222" stroke-width="0.55"/>
<rect x="170.12" y="196.4" width="19.34" height="6.9" fill="#c1d66c" stroke="#222" stroke-width="0.55"/>
<rect x="170.12" y="203.6" width="19.34" height="6.9" fill="#c25e22" stroke="#222" stroke-width="0.55"/>
<rect x="170.12" y="210.8" width="19.34" height="6.9" fill="#2f4a92" stroke="#222" stroke-width="0.55"/>
<rect x="170.62" y="211.35" width="8.92" height="5.80" fill="#c3c7d2"/>
<rect x="170.12" y="218.0" width="19.34" height="6.9" fill="#b896ea" stroke="#222" stroke-width="0.55"/>
<rect x="189.46" y="196.4" width="19.34" height="6.9" fill="#c1d66c" stroke="#222" stroke-width="0.55"/>
<rect x="189.46" y="203.6" width="19.34" height="6.9" fill="#c5b3dc" stroke="#222" stroke-width="0.55"/>
<rect x="189.46" y="210.8" width="19.34" height="6.9" fill="#2f4a92" stroke="#222" stroke-width="0.55"/>
<rect x="189.96" y="211.35" width="8.92" height="5.80" fill="#c3c7d2"/>
<rect x="189.46" y="218.0" width="19.34" height="6.9" fill="#b896ea" stroke="#222" stroke-width="0.55"/>
<rect x="208.80" y="196.4" width="19.34" height="6.9" fill="#c1d66c" stroke="#222" stroke-width="0.55"/>
<rect x="208.80" y="203.6" width="19.34" height="6.9" fill="#84e6f2" stroke="#222" stroke-width="0.55"/>
<rect x="208.80" y="210.8" width="19.34" height="6.9" fill="#2f4a92" stroke="#222" stroke-width="0.55"/>
<rect x="209.30" y="211.35" width="8.92" height="5.80" fill="#c3c7d2"/>
<rect x="208.80" y="218.0" width="19.34" height="6.9" fill="#6da57a" stroke="#222" stroke-width="0.55"/>
<rect x="228.14" y="196.4" width="19.34" height="6.9" fill="#c1d66c" stroke="#222" stroke-width="0.55"/>
<rect x="228.14" y="203.6" width="19.34" height="6.9" fill="#cbb432" stroke="#222" stroke-width="0.55"/>
<rect x="228.14" y="210.8" width="19.34" height="6.9" fill="#2f4a92" stroke="#222" stroke-width="0.55"/>
<rect x="228.64" y="211.35" width="8.92" height="5.80" fill="#c3c7d2"/>
<rect x="228.14" y="218.0" width="19.34" height="6.9" fill="#6da57a" stroke="#222" stroke-width="0.55"/>
<rect x="247.48" y="196.4" width="19.34" height="6.9" fill="#c1d66c" stroke="#222" stroke-width="0.55"/>
<rect x="247.48" y="203.6" width="19.34" height="6.9" fill="#8c4f4f" stroke="#222" stroke-width="0.55"/>
<rect x="247.48" y="210.8" width="19.34" height="6.9" fill="#2f4a92" stroke="#222" stroke-width="0.55"/>
<rect x="247.98" y="211.35" width="8.92" height="5.80" fill="#c3c7d2"/>
<rect x="247.48" y="218.0" width="19.34" height="6.9" fill="#6da57a" stroke="#222" stroke-width="0.55"/>
<rect x="266.82" y="196.4" width="19.34" height="6.9" fill="#ad5f7f" stroke="#222" stroke-width="0.55"/>
<rect x="266.82" y="203.6" width="19.34" height="6.9" fill="#c23a44" stroke="#222" stroke-width="0.55"/>
<rect x="266.82" y="210.8" width="19.34" height="6.9" fill="#2f4a92" stroke="#222" stroke-width="0.55"/>
<rect x="267.32" y="211.35" width="8.92" height="5.80" fill="#c3c7d2"/>
<rect x="266.82" y="218.0" width="19.34" height="6.9" fill="#b896ea" stroke="#222" stroke-width="0.55"/>
<rect x="286.16" y="196.4" width="19.34" height="6.9" fill="#ad5f7f" stroke="#222" stroke-width="0.55"/>
<rect x="286.16" y="203.6" width="19.34" height="6.9" fill="#2b3a7c" stroke="#222" stroke-width="0.55"/>
<rect x="286.16" y="210.8" width="19.34" height="6.9" fill="#2f4a92" stroke="#222" stroke-width="0.55"/>
<rect x="286.66" y="211.35" width="8.92" height="5.80" fill="#c3c7d2"/>
<rect x="286.16" y="218.0" width="19.34" height="6.9" fill="#6da57a" stroke="#222" stroke-width="0.55"/>
<rect x="305.50" y="196.4" width="19.34" height="6.9" fill="#ad5f7f" stroke="#222" stroke-width="0.55"/>
<rect x="305.50" y="203.6" width="19.34" height="6.9" fill="#a67fdc" stroke="#222" stroke-width="0.55"/>
<rect x="305.50" y="210.8" width="19.34" height="6.9" fill="#2f4a92" stroke="#222" stroke-width="0.55"/>
<rect x="306.00" y="211.35" width="8.92" height="5.80" fill="#c3c7d2"/>
<rect x="305.50" y="218.0" width="19.34" height="6.9" fill="#b896ea" stroke="#222" stroke-width="0.55"/>
<rect x="324.84" y="196.4" width="19.34" height="6.9" fill="#ad5f7f" stroke="#222" stroke-width="0.55"/>
<rect x="324.84" y="203.6" width="19.34" height="6.9" fill="#b7d050" stroke="#222" stroke-width="0.55"/>
<rect x="324.84" y="210.8" width="19.34" height="6.9" fill="#2f4a92" stroke="#222" stroke-width="0.55"/>
<rect x="325.34" y="211.35" width="8.92" height="5.80" fill="#c3c7d2"/>
<rect x="324.84" y="218.0" width="19.34" height="6.9" fill="#6da57a" stroke="#222" stroke-width="0.55"/>
<rect x="344.18" y="196.4" width="19.34" height="6.9" fill="#ad5f7f" stroke="#222" stroke-width="0.55"/>
<rect x="344.18" y="203.6" width="19.34" height="6.9" fill="#4a0a2c" stroke="#222" stroke-width="0.55"/>
<rect x="344.18" y="210.8" width="19.34" height="6.9" fill="#2f4a92" stroke="#222" stroke-width="0.55"/>
<rect x="344.68" y="211.35" width="8.92" height="5.80" fill="#c3c7d2"/>
<rect x="344.18" y="218.0" width="19.34" height="6.9" fill="#6da57a" stroke="#222" stroke-width="0.55"/>
<rect x="363.52" y="196.4" width="19.34" height="6.9" fill="#ad5f7f" stroke="#222" stroke-width="0.55"/>
<rect x="363.52" y="203.6" width="19.34" height="6.9" fill="#55a03c" stroke="#222" stroke-width="0.55"/>
<rect x="363.52" y="210.8" width="19.34" height="6.9" fill="#2f4a92" stroke="#222" stroke-width="0.55"/>
<rect x="364.02" y="211.35" width="8.92" height="5.80" fill="#c3c7d2"/>
<rect x="363.52" y="218.0" width="19.34" height="6.9" fill="#6da57a" stroke="#222" stroke-width="0.55"/>
<rect x="7.30" y="241.45" width="71.60" height="3.20" fill="#d8d8d8"/>
<rect x="111.90" y="241.45" width="271.66" height="3.20" fill="#d8d8d8"/>
<rect x="403.10" y="241.45" width="41.50" height="3.20" fill="#d8d8d8"/>
<rect x="7.30" y="258.85" width="71.60" height="3.00" fill="#d8d8d8"/>
<rect x="111.90" y="258.85" width="271.66" height="3.00" fill="#d8d8d8"/>
<rect x="403.10" y="258.85" width="41.50" height="3.00" fill="#d8d8d8"/>
<rect x="7.30" y="336.15" width="71.60" height="3.30" fill="#d8d8d8"/>
<rect x="111.90" y="336.15" width="271.66" height="3.30" fill="#d8d8d8"/>
<rect x="403.10" y="336.15" width="41.50" height="3.30" fill="#d8d8d8"/>
<rect x="7.30" y="383.25" width="71.60" height="3.10" fill="#d8d8d8"/>
<rect x="111.90" y="383.25" width="271.66" height="3.10" fill="#d8d8d8"/>
<rect x="403.10" y="383.25" width="41.50" height="3.10" fill="#d8d8d8"/>
<rect x="7.30" y="430.15" width="71.60" height="3.20" fill="#d8d8d8"/>
<rect x="111.90" y="430.15" width="271.66" height="3.20" fill="#d8d8d8"/>
<rect x="403.10" y="430.15" width="41.50" height="3.20" fill="#d8d8d8"/>
<rect x="7.6" y="227.05" width="71.0" height="14.60" fill="#efefef" stroke="#858585" stroke-width="0.85"/>
<text x="75.5" y="237.35" font-size="7.85" text-anchor="end">Cohesin complex</text>
<rect x="112.10" y="226.75" width="271.06" height="15.20" fill="#fff"/>
<rect x="112.65" y="227.00" width="8.57" height="13.97" fill="#efefef"/>
<rect x="122.32" y="227.00" width="8.57" height="13.97" fill="#efefef"/>
<rect x="131.99" y="227.00" width="8.57" height="13.97" fill="#efefef"/>
<rect x="141.66" y="227.00" width="8.57" height="13.97" fill="#efefef"/>
<rect x="151.33" y="227.00" width="8.57" height="13.97" fill="#efefef"/>
<rect x="161.00" y="227.00" width="8.57" height="13.97" fill="#efefef"/>
<rect x="170.67" y="227.00" width="8.57" height="13.97" fill="#efefef"/>
<rect x="180.34" y="227.00" width="8.57" height="13.97" fill="#efefef"/>
<rect x="190.01" y="227.00" width="8.57" height="13.97" fill="#efefef"/>
<rect x="199.68" y="227.00" width="8.57" height="13.97" fill="#efefef"/>
<rect x="209.35" y="227.00" width="8.57" height="13.97" fill="#efefef"/>
<rect x="219.02" y="227.00" width="8.57" height="13.97" fill="#efefef"/>
<rect x="228.69" y="227.00" width="8.57" height="13.97" fill="#efefef"/>
<rect x="238.36" y="227.00" width="8.57" height="13.97" fill="#efefef"/>
<rect x="248.03" y="227.00" width="8.57" height="13.97" fill="#efefef"/>
<rect x="257.70" y="227.00" width="8.57" height="13.97" fill="#efefef"/>
<rect x="267.37" y="227.00" width="8.57" height="13.97" fill="#efefef"/>
<rect x="277.04" y="227.00" width="8.57" height="13.97" fill="#efefef"/>
<rect x="286.71" y="227.00" width="8.57" height="13.97" fill="#efefef"/>
<rect x="296.38" y="227.00" width="8.57" height="13.97" fill="#efefef"/>
<rect x="306.05" y="227.00" width="8.57" height="13.97" fill="#efefef"/>
<rect x="315.72" y="227.00" width="8.57" height="13.97" fill="#efefef"/>
<rect x="325.39" y="227.00" width="8.57" height="13.97" fill="#efefef"/>
<rect x="335.06" y="227.00" width="8.57" height="13.97" fill="#efefef"/>
<rect x="344.73" y="227.00" width="8.57" height="13.97" fill="#efefef"/>
<rect x="354.40" y="227.00" width="8.57" height="13.97" fill="#efefef"/>
<rect x="364.07" y="227.00" width="8.57" height="13.97" fill="#efefef"/>
<rect x="373.74" y="227.00" width="8.57" height="13.97" fill="#efefef"/>
<rect x="131.04" y="226.75" width="0.8" height="15.20" fill="#b4b4b4"/>
<rect x="150.38" y="226.75" width="0.8" height="15.20" fill="#b4b4b4"/>
<rect x="169.72" y="226.75" width="0.8" height="15.20" fill="#b4b4b4"/>
<rect x="189.06" y="226.75" width="0.8" height="15.20" fill="#b4b4b4"/>
<rect x="208.40" y="226.75" width="0.8" height="15.20" fill="#b4b4b4"/>
<rect x="227.74" y="226.75" width="0.8" height="15.20" fill="#b4b4b4"/>
<rect x="247.08" y="226.75" width="0.8" height="15.20" fill="#b4b4b4"/>
<rect x="266.42" y="226.75" width="0.8" height="15.20" fill="#b4b4b4"/>
<rect x="285.76" y="226.75" width="0.8" height="15.20" fill="#b4b4b4"/>
<rect x="305.10" y="226.75" width="0.8" height="15.20" fill="#b4b4b4"/>
<rect x="324.44" y="226.75" width="0.8" height="15.20" fill="#b4b4b4"/>
<rect x="343.78" y="226.75" width="0.8" height="15.20" fill="#b4b4b4"/>
<rect x="363.12" y="226.75" width="0.8" height="15.20" fill="#b4b4b4"/>
<rect x="247.98" y="231.49" width="8.67" height="5.0" fill="#e23206"/>
<rect x="257.65" y="231.49" width="8.67" height="5.0" fill="#e23206"/>
<rect x="344.68" y="231.49" width="8.67" height="5.0" fill="#e23206"/>
<rect x="354.35" y="231.49" width="8.67" height="5.0" fill="#e23206"/>
<text x="110.8" y="236.79" font-size="7.1" font-style="italic" text-anchor="end">STAG2</text>
<text x="385.2" y="236.54" font-size="6.85">14%</text>
<rect x="112.40" y="227.05" width="270.66" height="14.60" fill="none" stroke="#9a9a9a" stroke-width="1.1"/>
<rect x="403.40" y="227.05" width="40.90" height="14.60" fill="#fff" stroke="#7a7a7a" stroke-width="0.7"/>
<rect x="403.75" y="229.99" width="7.30" height="7.3" fill="#e23206"/>
<rect x="7.6" y="244.45" width="71.0" height="14.60" fill="#efefef" stroke="#858585" stroke-width="0.85"/>
<text x="75.5" y="254.75" font-size="7.85" text-anchor="end">DNA repair</text>
<rect x="112.10" y="244.15" width="271.06" height="15.20" fill="#fff"/>
<rect x="131.99" y="244.40" width="8.57" height="13.97" fill="#efefef"/>
<rect x="141.66" y="244.40" width="8.57" height="13.97" fill="#efefef"/>
<rect x="151.33" y="244.40" width="8.57" height="13.97" fill="#efefef"/>
<rect x="161.00" y="244.40" width="8.57" height="13.97" fill="#efefef"/>
<rect x="170.67" y="244.40" width="8.57" height="13.97" fill="#efefef"/>
<rect x="180.34" y="244.40" width="8.57" height="13.97" fill="#efefef"/>
<rect x="190.01" y="244.40" width="8.57" height="13.97" fill="#efefef"/>
<rect x="199.68" y="244.40" width="8.57" height="13.97" fill="#efefef"/>
<rect x="209.35" y="244.40" width="8.57" height="13.97" fill="#efefef"/>
<rect x="219.02" y="244.40" width="8.57" height="13.97" fill="#efefef"/>
<rect x="228.69" y="244.40" width="8.57" height="13.97" fill="#efefef"/>
<rect x="238.36" y="244.40" width="8.57" height="13.97" fill="#efefef"/>
<rect x="248.03" y="244.40" width="8.57" height="13.97" fill="#efefef"/>
<rect x="257.70" y="244.40" width="8.57" height="13.97" fill="#efefef"/>
<rect x="267.37" y="244.40" width="8.57" height="13.97" fill="#efefef"/>
<rect x="277.04" y="244.40" width="8.57" height="13.97" fill="#efefef"/>
<rect x="286.71" y="244.40" width="8.57" height="13.97" fill="#efefef"/>
<rect x="296.38" y="244.40" width="8.57" height="13.97" fill="#efefef"/>
<rect x="306.05" y="244.40" width="8.57" height="13.97" fill="#efefef"/>
<rect x="315.72" y="244.40" width="8.57" height="13.97" fill="#efefef"/>
<rect x="325.39" y="244.40" width="8.57" height="13.97" fill="#efefef"/>
<rect x="335.06" y="244.40" width="8.57" height="13.97" fill="#efefef"/>
<rect x="344.73" y="244.40" width="8.57" height="13.97" fill="#efefef"/>
<rect x="354.40" y="244.40" width="8.57" height="13.97" fill="#efefef"/>
<rect x="364.07" y="244.40" width="8.57" height="13.97" fill="#efefef"/>
<rect x="373.74" y="244.40" width="8.57" height="13.97" fill="#efefef"/>
<rect x="131.04" y="244.15" width="0.8" height="15.20" fill="#b4b4b4"/>
<rect x="150.38" y="244.15" width="0.8" height="15.20" fill="#b4b4b4"/>
<rect x="169.72" y="244.15" width="0.8" height="15.20" fill="#b4b4b4"/>
<rect x="189.06" y="244.15" width="0.8" height="15.20" fill="#b4b4b4"/>
<rect x="208.40" y="244.15" width="0.8" height="15.20" fill="#b4b4b4"/>
<rect x="227.74" y="244.15" width="0.8" height="15.20" fill="#b4b4b4"/>
<rect x="247.08" y="244.15" width="0.8" height="15.20" fill="#b4b4b4"/>
<rect x="266.42" y="244.15" width="0.8" height="15.20" fill="#b4b4b4"/>
<rect x="285.76" y="244.15" width="0.8" height="15.20" fill="#b4b4b4"/>
<rect x="305.10" y="244.15" width="0.8" height="15.20" fill="#b4b4b4"/>
<rect x="324.44" y="244.15" width="0.8" height="15.20" fill="#b4b4b4"/>
<rect x="343.78" y="244.15" width="0.8" height="15.20" fill="#b4b4b4"/>
<rect x="363.12" y="244.15" width="0.8" height="15.20" fill="#b4b4b4"/>
<rect x="115.33" y="244.60" width="3.2" height="13.57" fill="#7d73ff" stroke="#04045c" stroke-width="1.3"/>
<rect x="125.00" y="244.60" width="3.2" height="13.57" fill="#7d73ff" stroke="#04045c" stroke-width="1.3"/>
<rect x="231.38" y="244.35" width="3.2" height="13.77" fill="#7d73ff"/>
<rect x="241.05" y="244.35" width="3.2" height="13.77" fill="#7d73ff"/>
<rect x="289.39" y="244.35" width="3.2" height="13.77" fill="#7d73ff"/>
<rect x="299.06" y="244.35" width="3.2" height="13.77" fill="#7d73ff"/>
<text x="110.8" y="254.19" font-size="7.1" font-style="italic" text-anchor="end">TP53</text>
<text x="385.2" y="253.94" font-size="6.85">21%</text>
<rect x="112.40" y="244.45" width="270.66" height="14.60" fill="none" stroke="#9a9a9a" stroke-width="1.1"/>
<rect x="403.40" y="244.45" width="40.90" height="14.60" fill="#fff" stroke="#7a7a7a" stroke-width="0.7"/>
<rect x="403.75" y="247.39" width="10.95" height="7.3" fill="#7d73ff"/>
<rect x="414.70" y="247.39" width="3.65" height="7.3" fill="#04045c"/>
<rect x="7.6" y="261.65" width="71.0" height="74.70" fill="#efefef" stroke="#858585" stroke-width="0.85"/>
<text x="75.5" y="297.80" font-size="7.85" text-anchor="end">Epigenetic</text>
<text x="75.5" y="306.00" font-size="7.85" text-anchor="end">modifiers</text>
<rect x="112.10" y="261.35" width="271.06" height="75.30" fill="#fff"/>
<rect x="112.65" y="261.60" width="8.57" height="13.97" fill="#efefef"/>
<rect x="122.32" y="261.60" width="8.57" height="13.97" fill="#efefef"/>
<rect x="131.99" y="261.60" width="8.57" height="13.97" fill="#efefef"/>
<rect x="141.66" y="261.60" width="8.57" height="13.97" fill="#efefef"/>
<rect x="190.01" y="261.60" width="8.57" height="13.97" fill="#efefef"/>
<rect x="199.68" y="261.60" width="8.57" height="13.97" fill="#efefef"/>
<rect x="209.35" y="261.60" width="8.57" height="13.97" fill="#efefef"/>
<rect x="219.02" y="261.60" width="8.57" height="13.97" fill="#efefef"/>
<rect x="228.69" y="261.60" width="8.57" height="13.97" fill="#efefef"/>
<rect x="238.36" y="261.60" width="8.57" height="13.97" fill="#efefef"/>
<rect x="248.03" y="261.60" width="8.57" height="13.97" fill="#efefef"/>
<rect x="257.70" y="261.60" width="8.57" height="13.97" fill="#efefef"/>
<rect x="267.37" y="261.60" width="8.57" height="13.97" fill="#efefef"/>
<rect x="277.04" y="261.60" width="8.57" height="13.97" fill="#efefef"/>
<rect x="286.71" y="261.60" width="8.57" height="13.97" fill="#efefef"/>
<rect x="296.38" y="261.60" width="8.57" height="13.97" fill="#efefef"/>
<rect x="306.05" y="261.60" width="8.57" height="13.97" fill="#efefef"/>
<rect x="315.72" y="261.60" width="8.57" height="13.97" fill="#efefef"/>
<rect x="325.39" y="261.60" width="8.57" height="13.97" fill="#efefef"/>
<rect x="335.06" y="261.60" width="8.57" height="13.97" fill="#efefef"/>
<rect x="344.73" y="261.60" width="8.57" height="13.97" fill="#efefef"/>
<rect x="354.40" y="261.60" width="8.57" height="13.97" fill="#efefef"/>
<rect x="364.07" y="261.60" width="8.57" height="13.97" fill="#efefef"/>
<rect x="373.74" y="261.60" width="8.57" height="13.97" fill="#efefef"/>
<rect x="112.65" y="276.67" width="8.57" height="13.97" fill="#efefef"/>
<rect x="122.32" y="276.67" width="8.57" height="13.97" fill="#efefef"/>
<rect x="131.99" y="276.67" width="8.57" height="13.97" fill="#efefef"/>
<rect x="141.66" y="276.67" width="8.57" height="13.97" fill="#efefef"/>
<rect x="151.33" y="276.67" width="8.57" height="13.97" fill="#efefef"/>
<rect x="161.00" y="276.67" width="8.57" height="13.97" fill="#efefef"/>
<rect x="170.67" y="276.67" width="8.57" height="13.97" fill="#efefef"/>
<rect x="180.34" y="276.67" width="8.57" height="13.97" fill="#efefef"/>
<rect x="190.01" y="276.67" width="8.57" height="13.97" fill="#efefef"/>
<rect x="199.68" y="276.67" width="8.57" height="13.97" fill="#efefef"/>
<rect x="209.35" y="276.67" width="8.57" height="13.97" fill="#efefef"/>
<rect x="219.02" y="276.67" width="8.57" height="13.97" fill="#efefef"/>
<rect x="228.69" y="276.67" width="8.57" height="13.97" fill="#efefef"/>
<rect x="238.36" y="276.67" width="8.57" height="13.97" fill="#efefef"/>
<rect x="248.03" y="276.67" width="8.57" height="13.97" fill="#efefef"/>
<rect x="257.70" y="276.67" width="8.57" height="13.97" fill="#efefef"/>
<rect x="267.37" y="276.67" width="8.57" height="13.97" fill="#efefef"/>
<rect x="277.04" y="276.67" width="8.57" height="13.97" fill="#efefef"/>
<rect x="286.71" y="276.67" width="8.57" height="13.97" fill="#efefef"/>
<rect x="296.38" y="276.67" width="8.57" height="13.97" fill="#efefef"/>
<rect x="306.05" y="276.67" width="8.57" height="13.97" fill="#efefef"/>
<rect x="315.72" y="276.67" width="8.57" height="13.97" fill="#efefef"/>
<rect x="325.39" y="276.67" width="8.57" height="13.97" fill="#efefef"/>
<rect x="335.06" y="276.67" width="8.57" height="13.97" fill="#efefef"/>
<rect x="344.73" y="276.67" width="8.57" height="13.97" fill="#efefef"/>
<rect x="354.40" y="276.67" width="8.57" height="13.97" fill="#efefef"/>
<rect x="364.07" y="276.67" width="8.57" height="13.97" fill="#efefef"/>
<rect x="373.74" y="276.67" width="8.57" height="13.97" fill="#efefef"/>
<rect x="112.65" y="291.74" width="8.57" height="13.97" fill="#efefef"/>
<rect x="122.32" y="291.74" width="8.57" height="13.97" fill="#efefef"/>
<rect x="131.99" y="291.74" width="8.57" height="13.97" fill="#efefef"/>
<rect x="141.66" y="291.74" width="8.57" height="13.97" fill="#efefef"/>
<rect x="151.33" y="291.74" width="8.57" height="13.97" fill="#efefef"/>
<rect x="161.00" y="291.74" width="8.57" height="13.97" fill="#efefef"/>
<rect x="170.67" y="291.74" width="8.57" height="13.97" fill="#efefef"/>
<rect x="180.34" y="291.74" width="8.57" height="13.97" fill="#efefef"/>
<rect x="190.01" y="291.74" width="8.57" height="13.97" fill="#efefef"/>
<rect x="199.68" y="291.74" width="8.57" height="13.97" fill="#efefef"/>
<rect x="209.35" y="291.74" width="8.57" height="13.97" fill="#efefef"/>
<rect x="219.02" y="291.74" width="8.57" height="13.97" fill="#efefef"/>
<rect x="228.69" y="291.74" width="8.57" height="13.97" fill="#efefef"/>
<rect x="238.36" y="291.74" width="8.57" height="13.97" fill="#efefef"/>
<rect x="248.03" y="291.74" width="8.57" height="13.97" fill="#efefef"/>
<rect x="257.70" y="291.74" width="8.57" height="13.97" fill="#efefef"/>
<rect x="267.37" y="291.74" width="8.57" height="13.97" fill="#efefef"/>
<rect x="277.04" y="291.74" width="8.57" height="13.97" fill="#efefef"/>
<rect x="286.71" y="291.74" width="8.57" height="13.97" fill="#efefef"/>
<rect x="296.38" y="291.74" width="8.57" height="13.97" fill="#efefef"/>
<rect x="306.05" y="291.74" width="8.57" height="13.97" fill="#efefef"/>
<rect x="315.72" y="291.74" width="8.57" height="13.97" fill="#efefef"/>
<rect x="325.39" y="291.74" width="8.57" height="13.97" fill="#efefef"/>
<rect x="335.06" y="291.74" width="8.57" height="13.97" fill="#efefef"/>
<rect x="344.73" y="291.74" width="8.57" height="13.97" fill="#efefef"/>
<rect x="354.40" y="291.74" width="8.57" height="13.97" fill="#efefef"/>
<rect x="364.07" y="291.74" width="8.57" height="13.97" fill="#efefef"/>
<rect x="373.74" y="291.74" width="8.57" height="13.97" fill="#efefef"/>
<rect x="112.65" y="306.81" width="8.57" height="13.97" fill="#efefef"/>
<rect x="122.32" y="306.81" width="8.57" height="13.97" fill="#efefef"/>
<rect x="131.99" y="306.81" width="8.57" height="13.97" fill="#efefef"/>
<rect x="141.66" y="306.81" width="8.57" height="13.97" fill="#efefef"/>
<rect x="151.33" y="306.81" width="8.57" height="13.97" fill="#efefef"/>
<rect x="161.00" y="306.81" width="8.57" height="13.97" fill="#efefef"/>
<rect x="170.67" y="306.81" width="8.57" height="13.97" fill="#efefef"/>
<rect x="180.34" y="306.81" width="8.57" height="13.97" fill="#efefef"/>
<rect x="190.01" y="306.81" width="8.57" height="13.97" fill="#efefef"/>
<rect x="199.68" y="306.81" width="8.57" height="13.97" fill="#efefef"/>
<rect x="209.35" y="306.81" width="8.57" height="13.97" fill="#efefef"/>
<rect x="219.02" y="306.81" width="8.57" height="13.97" fill="#efefef"/>
<rect x="228.69" y="306.81" width="8.57" height="13.97" fill="#efefef"/>
<rect x="238.36" y="306.81" width="8.57" height="13.97" fill="#efefef"/>
<rect x="248.03" y="306.81" width="8.57" height="13.97" fill="#efefef"/>
<rect x="257.70" y="306.81" width="8.57" height="13.97" fill="#efefef"/>
<rect x="267.37" y="306.81" width="8.57" height="13.97" fill="#efefef"/>
<rect x="277.04" y="306.81" width="8.57" height="13.97" fill="#efefef"/>
<rect x="286.71" y="306.81" width="8.57" height="13.97" fill="#efefef"/>
<rect x="296.38" y="306.81" width="8.57" height="13.97" fill="#efefef"/>
<rect x="306.05" y="306.81" width="8.57" height="13.97" fill="#efefef"/>
<rect x="315.72" y="306.81" width="8.57" height="13.97" fill="#efefef"/>
<rect x="325.39" y="306.81" width="8.57" height="13.97" fill="#efefef"/>
<rect x="335.06" y="306.81" width="8.57" height="13.97" fill="#efefef"/>
<rect x="344.73" y="306.81" width="8.57" height="13.97" fill="#efefef"/>
<rect x="354.40" y="306.81" width="8.57" height="13.97" fill="#efefef"/>
<rect x="364.07" y="306.81" width="8.57" height="13.97" fill="#efefef"/>
<rect x="373.74" y="306.81" width="8.57" height="13.97" fill="#efefef"/>
<rect x="112.65" y="321.88" width="8.57" height="13.97" fill="#efefef"/>
<rect x="122.32" y="321.88" width="8.57" height="13.97" fill="#efefef"/>
<rect x="131.99" y="321.88" width="8.57" height="13.97" fill="#efefef"/>
<rect x="141.66" y="321.88" width="8.57" height="13.97" fill="#efefef"/>
<rect x="151.33" y="321.88" width="8.57" height="13.97" fill="#efefef"/>
<rect x="161.00" y="321.88" width="8.57" height="13.97" fill="#efefef"/>
<rect x="170.67" y="321.88" width="8.57" height="13.97" fill="#efefef"/>
<rect x="180.34" y="321.88" width="8.57" height="13.97" fill="#efefef"/>
<rect x="190.01" y="321.88" width="8.57" height="13.97" fill="#efefef"/>
<rect x="199.68" y="321.88" width="8.57" height="13.97" fill="#efefef"/>
<rect x="209.35" y="321.88" width="8.57" height="13.97" fill="#efefef"/>
<rect x="219.02" y="321.88" width="8.57" height="13.97" fill="#efefef"/>
<rect x="228.69" y="321.88" width="8.57" height="13.97" fill="#efefef"/>
<rect x="238.36" y="321.88" width="8.57" height="13.97" fill="#efefef"/>
<rect x="248.03" y="321.88" width="8.57" height="13.97" fill="#efefef"/>
<rect x="257.70" y="321.88" width="8.57" height="13.97" fill="#efefef"/>
<rect x="267.37" y="321.88" width="8.57" height="13.97" fill="#efefef"/>
<rect x="277.04" y="321.88" width="8.57" height="13.97" fill="#efefef"/>
<rect x="286.71" y="321.88" width="8.57" height="13.97" fill="#efefef"/>
<rect x="296.38" y="321.88" width="8.57" height="13.97" fill="#efefef"/>
<rect x="306.05" y="321.88" width="8.57" height="13.97" fill="#efefef"/>
<rect x="315.72" y="321.88" width="8.57" height="13.97" fill="#efefef"/>
<rect x="325.39" y="321.88" width="8.57" height="13.97" fill="#efefef"/>
<rect x="335.06" y="321.88" width="8.57" height="13.97" fill="#efefef"/>
<rect x="344.73" y="321.88" width="8.57" height="13.97" fill="#efefef"/>
<rect x="354.40" y="321.88" width="8.57" height="13.97" fill="#efefef"/>
<rect x="364.07" y="321.88" width="8.57" height="13.97" fill="#efefef"/>
<rect x="373.74" y="321.88" width="8.57" height="13.97" fill="#efefef"/>
<rect x="131.04" y="261.35" width="0.8" height="75.30" fill="#b4b4b4"/>
<rect x="150.38" y="261.35" width="0.8" height="75.30" fill="#b4b4b4"/>
<rect x="169.72" y="261.35" width="0.8" height="75.30" fill="#b4b4b4"/>
<rect x="189.06" y="261.35" width="0.8" height="75.30" fill="#b4b4b4"/>
<rect x="208.40" y="261.35" width="0.8" height="75.30" fill="#b4b4b4"/>
<rect x="227.74" y="261.35" width="0.8" height="75.30" fill="#b4b4b4"/>
<rect x="247.08" y="261.35" width="0.8" height="75.30" fill="#b4b4b4"/>
<rect x="266.42" y="261.35" width="0.8" height="75.30" fill="#b4b4b4"/>
<rect x="285.76" y="261.35" width="0.8" height="75.30" fill="#b4b4b4"/>
<rect x="305.10" y="261.35" width="0.8" height="75.30" fill="#b4b4b4"/>
<rect x="324.44" y="261.35" width="0.8" height="75.30" fill="#b4b4b4"/>
<rect x="343.78" y="261.35" width="0.8" height="75.30" fill="#b4b4b4"/>
<rect x="363.12" y="261.35" width="0.8" height="75.30" fill="#b4b4b4"/>
<rect x="151.33" y="266.09" width="8.57" height="5.0" fill="#e23206" stroke="#7a1c0c" stroke-width="1.2"/>
<rect x="161.00" y="266.09" width="8.57" height="5.0" fill="#e23206" stroke="#7a1c0c" stroke-width="1.2"/>
<rect x="170.57" y="261.70" width="8.77" height="13.77" fill="#cdc432"/>
<rect x="170.67" y="266.09" width="8.57" height="5.0" fill="#e23206" stroke="#7a1c0c" stroke-width="1.2"/>
<rect x="180.24" y="261.70" width="8.77" height="13.77" fill="#cdc432"/>
<rect x="180.34" y="266.09" width="8.57" height="5.0" fill="#e23206" stroke="#7a1c0c" stroke-width="1.2"/>
<rect x="192.69" y="261.55" width="3.2" height="13.77" fill="#7d73ff"/>
<rect x="202.37" y="261.55" width="3.2" height="13.77" fill="#7d73ff"/>
<rect x="228.59" y="261.70" width="8.77" height="13.77" fill="#cdc432"/>
<rect x="231.38" y="261.55" width="3.2" height="13.77" fill="#7d73ff"/>
<rect x="238.26" y="261.70" width="8.77" height="13.77" fill="#cdc432"/>
<rect x="241.05" y="261.55" width="3.2" height="13.77" fill="#7d73ff"/>
<rect x="247.98" y="266.09" width="8.67" height="5.0" fill="#e23206"/>
<rect x="257.65" y="266.09" width="8.67" height="5.0" fill="#e23206"/>
<rect x="325.29" y="261.70" width="8.77" height="13.77" fill="#cdc432"/>
<rect x="334.96" y="261.70" width="8.77" height="13.77" fill="#cdc432"/>
<rect x="337.74" y="261.55" width="3.2" height="13.77" fill="#7d73ff"/>
<text x="110.8" y="271.39" font-size="7.1" font-style="italic" text-anchor="end">TET2</text>
<text x="385.2" y="271.14" font-size="6.85">43%</text>
<rect x="170.57" y="276.77" width="8.77" height="13.77" fill="#cdc432"/>
<rect x="180.24" y="276.77" width="8.77" height="13.77" fill="#cdc432"/>
<rect x="305.95" y="276.77" width="8.77" height="13.77" fill="#cdc432"/>
<rect x="315.62" y="276.77" width="8.77" height="13.77" fill="#cdc432"/>
<rect x="325.29" y="276.77" width="8.77" height="13.77" fill="#cdc432"/>
<rect x="334.96" y="276.77" width="8.77" height="13.77" fill="#cdc432"/>
<text x="110.8" y="286.46" font-size="7.1" font-style="italic" text-anchor="end">ASXL1</text>
<text x="385.2" y="286.21" font-size="6.85">21%</text>
<rect x="189.91" y="291.84" width="8.77" height="13.77" fill="#cdc432"/>
<rect x="199.58" y="291.84" width="8.77" height="13.77" fill="#cdc432"/>
<rect x="270.05" y="291.69" width="3.2" height="13.77" fill="#7d73ff"/>
<rect x="279.72" y="291.69" width="3.2" height="13.77" fill="#7d73ff"/>
<text x="110.8" y="301.53" font-size="7.1" font-style="italic" text-anchor="end">DNMT3A</text>
<text x="385.2" y="301.28" font-size="6.85">14%</text>
<rect x="131.94" y="311.30" width="8.67" height="5.0" fill="#e23206"/>
<rect x="270.05" y="306.76" width="3.2" height="13.77" fill="#7d73ff"/>
<rect x="279.72" y="306.76" width="3.2" height="13.77" fill="#7d73ff"/>
<text x="110.8" y="316.60" font-size="7.1" font-style="italic" text-anchor="end">EZH2</text>
<text x="385.2" y="316.35" font-size="6.85">11%</text>
<rect x="173.36" y="321.83" width="3.2" height="13.77" fill="#7d73ff"/>
<rect x="183.03" y="321.83" width="3.2" height="13.77" fill="#7d73ff"/>
<rect x="337.74" y="321.83" width="3.2" height="13.77" fill="#7d73ff"/>
<text x="110.8" y="331.67" font-size="7.1" font-style="italic" text-anchor="end">IDH1</text>
<text x="385.2" y="331.42" font-size="6.85">11%</text>
<rect x="112.40" y="261.65" width="270.66" height="74.70" fill="none" stroke="#9a9a9a" stroke-width="1.1"/>
<rect x="403.40" y="261.65" width="40.90" height="74.70" fill="#fff" stroke="#7a7a7a" stroke-width="0.7"/>
<rect x="403.75" y="264.59" width="10.95" height="7.3" fill="#cdc432"/>
<rect x="414.70" y="264.59" width="10.95" height="7.3" fill="#e23206"/>
<rect x="425.65" y="264.59" width="9.12" height="7.3" fill="#7d73ff"/>
<rect x="434.77" y="264.59" width="7.30" height="7.3" fill="#7a1c0c"/>
<rect x="403.75" y="279.66" width="10.95" height="7.3" fill="#cdc432"/>
<rect x="403.75" y="294.73" width="3.65" height="7.3" fill="#cdc432"/>
<rect x="407.40" y="294.73" width="3.65" height="7.3" fill="#7d73ff"/>
<rect x="403.75" y="309.80" width="1.82" height="7.3" fill="#e23206"/>
<rect x="405.57" y="309.80" width="3.65" height="7.3" fill="#7d73ff"/>
<rect x="403.75" y="324.87" width="5.47" height="7.3" fill="#7d73ff"/>
<rect x="7.6" y="339.25" width="71.0" height="44.20" fill="#efefef" stroke="#858585" stroke-width="0.85"/>
<text x="75.5" y="364.35" font-size="7.85" text-anchor="end">RNA splicing</text>
<rect x="112.10" y="338.95" width="271.06" height="44.80" fill="#fff"/>
<rect x="112.65" y="339.20" width="8.57" height="13.97" fill="#efefef"/>
<rect x="122.32" y="339.20" width="8.57" height="13.97" fill="#efefef"/>
<rect x="131.99" y="339.20" width="8.57" height="13.97" fill="#efefef"/>
<rect x="141.66" y="339.20" width="8.57" height="13.97" fill="#efefef"/>
<rect x="151.33" y="339.20" width="8.57" height="13.97" fill="#efefef"/>
<rect x="161.00" y="339.20" width="8.57" height="13.97" fill="#efefef"/>
<rect x="170.67" y="339.20" width="8.57" height="13.97" fill="#efefef"/>
<rect x="180.34" y="339.20" width="8.57" height="13.97" fill="#efefef"/>
<rect x="190.01" y="339.20" width="8.57" height="13.97" fill="#efefef"/>
<rect x="199.68" y="339.20" width="8.57" height="13.97" fill="#efefef"/>
<rect x="209.35" y="339.20" width="8.57" height="13.97" fill="#efefef"/>
<rect x="219.02" y="339.20" width="8.57" height="13.97" fill="#efefef"/>
<rect x="228.69" y="339.20" width="8.57" height="13.97" fill="#efefef"/>
<rect x="238.36" y="339.20" width="8.57" height="13.97" fill="#efefef"/>
<rect x="248.03" y="339.20" width="8.57" height="13.97" fill="#efefef"/>
<rect x="257.70" y="339.20" width="8.57" height="13.97" fill="#efefef"/>
<rect x="267.37" y="339.20" width="8.57" height="13.97" fill="#efefef"/>
<rect x="277.04" y="339.20" width="8.57" height="13.97" fill="#efefef"/>
<rect x="286.71" y="339.20" width="8.57" height="13.97" fill="#efefef"/>
<rect x="296.38" y="339.20" width="8.57" height="13.97" fill="#efefef"/>
<rect x="306.05" y="339.20" width="8.57" height="13.97" fill="#efefef"/>
<rect x="315.72" y="339.20" width="8.57" height="13.97" fill="#efefef"/>
<rect x="325.39" y="339.20" width="8.57" height="13.97" fill="#efefef"/>
<rect x="335.06" y="339.20" width="8.57" height="13.97" fill="#efefef"/>
<rect x="344.73" y="339.20" width="8.57" height="13.97" fill="#efefef"/>
<rect x="354.40" y="339.20" width="8.57" height="13.97" fill="#efefef"/>
<rect x="112.65" y="354.27" width="8.57" height="13.97" fill="#efefef"/>
<rect x="122.32" y="354.27" width="8.57" height="13.97" fill="#efefef"/>
<rect x="131.99" y="354.27" width="8.57" height="13.97" fill="#efefef"/>
<rect x="141.66" y="354.27" width="8.57" height="13.97" fill="#efefef"/>
<rect x="151.33" y="354.27" width="8.57" height="13.97" fill="#efefef"/>
<rect x="161.00" y="354.27" width="8.57" height="13.97" fill="#efefef"/>
<rect x="170.67" y="354.27" width="8.57" height="13.97" fill="#efefef"/>
<rect x="180.34" y="354.27" width="8.57" height="13.97" fill="#efefef"/>
<rect x="190.01" y="354.27" width="8.57" height="13.97" fill="#efefef"/>
<rect x="199.68" y="354.27" width="8.57" height="13.97" fill="#efefef"/>
<rect x="209.35" y="354.27" width="8.57" height="13.97" fill="#efefef"/>
<rect x="219.02" y="354.27" width="8.57" height="13.97" fill="#efefef"/>
<rect x="228.69" y="354.27" width="8.57" height="13.97" fill="#efefef"/>
<rect x="238.36" y="354.27" width="8.57" height="13.97" fill="#efefef"/>
<rect x="248.03" y="354.27" width="8.57" height="13.97" fill="#efefef"/>
<rect x="257.70" y="354.27" width="8.57" height="13.97" fill="#efefef"/>
<rect x="267.37" y="354.27" width="8.57" height="13.97" fill="#efefef"/>
<rect x="277.04" y="354.27" width="8.57" height="13.97" fill="#efefef"/>
<rect x="286.71" y="354.27" width="8.57" height="13.97" fill="#efefef"/>
<rect x="296.38" y="354.27" width="8.57" height="13.97" fill="#efefef"/>
<rect x="306.05" y="354.27" width="8.57" height="13.97" fill="#efefef"/>
<rect x="315.72" y="354.27" width="8.57" height="13.97" fill="#efefef"/>
<rect x="325.39" y="354.27" width="8.57" height="13.97" fill="#efefef"/>
<rect x="335.06" y="354.27" width="8.57" height="13.97" fill="#efefef"/>
<rect x="344.73" y="354.27" width="8.57" height="13.97" fill="#efefef"/>
<rect x="354.40" y="354.27" width="8.57" height="13.97" fill="#efefef"/>
<rect x="364.07" y="354.27" width="8.57" height="13.97" fill="#efefef"/>
<rect x="373.74" y="354.27" width="8.57" height="13.97" fill="#efefef"/>
<rect x="112.65" y="369.34" width="8.57" height="13.86" fill="#efefef"/>
<rect x="122.32" y="369.34" width="8.57" height="13.86" fill="#efefef"/>
<rect x="131.99" y="369.34" width="8.57" height="13.86" fill="#efefef"/>
<rect x="141.66" y="369.34" width="8.57" height="13.86" fill="#efefef"/>
<rect x="151.33" y="369.34" width="8.57" height="13.86" fill="#efefef"/>
<rect x="161.00" y="369.34" width="8.57" height="13.86" fill="#efefef"/>
<rect x="170.67" y="369.34" width="8.57" height="13.86" fill="#efefef"/>
<rect x="180.34" y="369.34" width="8.57" height="13.86" fill="#efefef"/>
<rect x="190.01" y="369.34" width="8.57" height="13.86" fill="#efefef"/>
<rect x="199.68" y="369.34" width="8.57" height="13.86" fill="#efefef"/>
<rect x="209.35" y="369.34" width="8.57" height="13.86" fill="#efefef"/>
<rect x="219.02" y="369.34" width="8.57" height="13.86" fill="#efefef"/>
<rect x="228.69" y="369.34" width="8.57" height="13.86" fill="#efefef"/>
<rect x="238.36" y="369.34" width="8.57" height="13.86" fill="#efefef"/>
<rect x="248.03" y="369.34" width="8.57" height="13.86" fill="#efefef"/>
<rect x="257.70" y="369.34" width="8.57" height="13.86" fill="#efefef"/>
<rect x="267.37" y="369.34" width="8.57" height="13.86" fill="#efefef"/>
<rect x="277.04" y="369.34" width="8.57" height="13.86" fill="#efefef"/>
<rect x="286.71" y="369.34" width="8.57" height="13.86" fill="#efefef"/>
<rect x="296.38" y="369.34" width="8.57" height="13.86" fill="#efefef"/>
<rect x="306.05" y="369.34" width="8.57" height="13.86" fill="#efefef"/>
<rect x="315.72" y="369.34" width="8.57" height="13.86" fill="#efefef"/>
<rect x="325.39" y="369.34" width="8.57" height="13.86" fill="#efefef"/>
<rect x="335.06" y="369.34" width="8.57" height="13.86" fill="#efefef"/>
<rect x="344.73" y="369.34" width="8.57" height="13.86" fill="#efefef"/>
<rect x="354.40" y="369.34" width="8.57" height="13.86" fill="#efefef"/>
<rect x="364.07" y="369.34" width="8.57" height="13.86" fill="#efefef"/>
<rect x="373.74" y="369.34" width="8.57" height="13.86" fill="#efefef"/>
<rect x="131.04" y="338.95" width="0.8" height="44.80" fill="#b4b4b4"/>
<rect x="150.38" y="338.95" width="0.8" height="44.80" fill="#b4b4b4"/>
<rect x="169.72" y="338.95" width="0.8" height="44.80" fill="#b4b4b4"/>
<rect x="189.06" y="338.95" width="0.8" height="44.80" fill="#b4b4b4"/>
<rect x="208.40" y="338.95" width="0.8" height="44.80" fill="#b4b4b4"/>
<rect x="227.74" y="338.95" width="0.8" height="44.80" fill="#b4b4b4"/>
<rect x="247.08" y="338.95" width="0.8" height="44.80" fill="#b4b4b4"/>
<rect x="266.42" y="338.95" width="0.8" height="44.80" fill="#b4b4b4"/>
<rect x="285.76" y="338.95" width="0.8" height="44.80" fill="#b4b4b4"/>
<rect x="305.10" y="338.95" width="0.8" height="44.80" fill="#b4b4b4"/>
<rect x="324.44" y="338.95" width="0.8" height="44.80" fill="#b4b4b4"/>
<rect x="343.78" y="338.95" width="0.8" height="44.80" fill="#b4b4b4"/>
<rect x="363.12" y="338.95" width="0.8" height="44.80" fill="#b4b4b4"/>
<rect x="151.28" y="343.69" width="8.67" height="5.0" fill="#e23206"/>
<rect x="160.95" y="343.69" width="8.67" height="5.0" fill="#e23206"/>
<rect x="364.02" y="339.15" width="8.67" height="14.07" fill="#cdc432" stroke="#4a4608" stroke-width="0.9"/>
<rect x="373.69" y="339.15" width="8.67" height="14.07" fill="#cdc432" stroke="#4a4608" stroke-width="0.9"/>
<text x="110.8" y="348.99" font-size="7.1" font-style="italic" text-anchor="end">ZRSR2</text>
<text x="385.2" y="348.74" font-size="6.85">14%</text>
<rect x="134.68" y="354.22" width="3.2" height="13.77" fill="#7d73ff"/>
<rect x="250.72" y="354.22" width="3.2" height="13.77" fill="#7d73ff"/>
<rect x="260.38" y="354.22" width="3.2" height="13.77" fill="#7d73ff"/>
<rect x="347.41" y="354.22" width="3.2" height="13.77" fill="#7d73ff"/>
<rect x="357.08" y="354.22" width="3.2" height="13.77" fill="#7d73ff"/>
<text x="110.8" y="364.06" font-size="7.1" font-style="italic" text-anchor="end">U2AF1</text>
<text x="385.2" y="363.81" font-size="6.85">18%</text>
<rect x="328.07" y="369.29" width="3.2" height="13.77" fill="#7d73ff"/>
<rect x="337.74" y="369.29" width="3.2" height="13.77" fill="#7d73ff"/>
<text x="110.8" y="379.13" font-size="7.1" font-style="italic" text-anchor="end">SF3B1</text>
<text x="385.2" y="378.88" font-size="6.85">7%</text>
<rect x="112.40" y="339.25" width="270.66" height="44.20" fill="none" stroke="#9a9a9a" stroke-width="1.1"/>
<rect x="403.40" y="339.25" width="40.90" height="44.20" fill="#fff" stroke="#7a7a7a" stroke-width="0.7"/>
<rect x="403.75" y="342.19" width="3.65" height="7.3" fill="#cdc432"/>
<rect x="407.40" y="342.19" width="3.65" height="7.3" fill="#e23206"/>
<rect x="411.05" y="342.19" width="3.65" height="7.3" fill="#6e6414"/>
<rect x="403.75" y="357.26" width="9.12" height="7.3" fill="#7d73ff"/>
<rect x="403.75" y="372.33" width="3.65" height="7.3" fill="#7d73ff"/>
<rect x="7.6" y="386.15" width="71.0" height="44.20" fill="#efefef" stroke="#858585" stroke-width="0.85"/>
<text x="75.5" y="411.25" font-size="7.85" text-anchor="end">Signaling</text>
<rect x="112.10" y="385.85" width="271.06" height="44.80" fill="#fff"/>
<rect x="112.65" y="386.10" width="8.57" height="13.97" fill="#efefef"/>
<rect x="122.32" y="386.10" width="8.57" height="13.97" fill="#efefef"/>
<rect x="131.99" y="386.10" width="8.57" height="13.97" fill="#efefef"/>
<rect x="141.66" y="386.10" width="8.57" height="13.97" fill="#efefef"/>
<rect x="151.33" y="386.10" width="8.57" height="13.97" fill="#efefef"/>
<rect x="161.00" y="386.10" width="8.57" height="13.97" fill="#efefef"/>
<rect x="170.67" y="386.10" width="8.57" height="13.97" fill="#efefef"/>
<rect x="180.34" y="386.10" width="8.57" height="13.97" fill="#efefef"/>
<rect x="190.01" y="386.10" width="8.57" height="13.97" fill="#efefef"/>
<rect x="199.68" y="386.10" width="8.57" height="13.97" fill="#efefef"/>
<rect x="209.35" y="386.10" width="8.57" height="13.97" fill="#efefef"/>
<rect x="219.02" y="386.10" width="8.57" height="13.97" fill="#efefef"/>
<rect x="228.69" y="386.10" width="8.57" height="13.97" fill="#efefef"/>
<rect x="238.36" y="386.10" width="8.57" height="13.97" fill="#efefef"/>
<rect x="248.03" y="386.10" width="8.57" height="13.97" fill="#efefef"/>
<rect x="257.70" y="386.10" width="8.57" height="13.97" fill="#efefef"/>
<rect x="267.37" y="386.10" width="8.57" height="13.97" fill="#efefef"/>
<rect x="277.04" y="386.10" width="8.57" height="13.97" fill="#efefef"/>
<rect x="286.71" y="386.10" width="8.57" height="13.97" fill="#efefef"/>
<rect x="296.38" y="386.10" width="8.57" height="13.97" fill="#efefef"/>
<rect x="306.05" y="386.10" width="8.57" height="13.97" fill="#efefef"/>
<rect x="315.72" y="386.10" width="8.57" height="13.97" fill="#efefef"/>
<rect x="325.39" y="386.10" width="8.57" height="13.97" fill="#efefef"/>
<rect x="335.06" y="386.10" width="8.57" height="13.97" fill="#efefef"/>
<rect x="344.73" y="386.10" width="8.57" height="13.97" fill="#efefef"/>
<rect x="354.40" y="386.10" width="8.57" height="13.97" fill="#efefef"/>
<rect x="364.07" y="386.10" width="8.57" height="13.97" fill="#efefef"/>
<rect x="373.74" y="386.10" width="8.57" height="13.97" fill="#efefef"/>
<rect x="112.65" y="401.17" width="8.57" height="13.97" fill="#efefef"/>
<rect x="122.32" y="401.17" width="8.57" height="13.97" fill="#efefef"/>
<rect x="131.99" y="401.17" width="8.57" height="13.97" fill="#efefef"/>
<rect x="141.66" y="401.17" width="8.57" height="13.97" fill="#efefef"/>
<rect x="151.33" y="401.17" width="8.57" height="13.97" fill="#efefef"/>
<rect x="161.00" y="401.17" width="8.57" height="13.97" fill="#efefef"/>
<rect x="170.67" y="401.17" width="8.57" height="13.97" fill="#efefef"/>
<rect x="180.34" y="401.17" width="8.57" height="13.97" fill="#efefef"/>
<rect x="190.01" y="401.17" width="8.57" height="13.97" fill="#efefef"/>
<rect x="199.68" y="401.17" width="8.57" height="13.97" fill="#efefef"/>
<rect x="209.35" y="401.17" width="8.57" height="13.97" fill="#efefef"/>
<rect x="219.02" y="401.17" width="8.57" height="13.97" fill="#efefef"/>
<rect x="228.69" y="401.17" width="8.57" height="13.97" fill="#efefef"/>
<rect x="238.36" y="401.17" width="8.57" height="13.97" fill="#efefef"/>
<rect x="248.03" y="401.17" width="8.57" height="13.97" fill="#efefef"/>
<rect x="257.70" y="401.17" width="8.57" height="13.97" fill="#efefef"/>
<rect x="267.37" y="401.17" width="8.57" height="13.97" fill="#efefef"/>
<rect x="277.04" y="401.17" width="8.57" height="13.97" fill="#efefef"/>
<rect x="286.71" y="401.17" width="8.57" height="13.97" fill="#efefef"/>
<rect x="296.38" y="401.17" width="8.57" height="13.97" fill="#efefef"/>
<rect x="306.05" y="401.17" width="8.57" height="13.97" fill="#efefef"/>
<rect x="315.72" y="401.17" width="8.57" height="13.97" fill="#efefef"/>
<rect x="325.39" y="401.17" width="8.57" height="13.97" fill="#efefef"/>
<rect x="335.06" y="401.17" width="8.57" height="13.97" fill="#efefef"/>
<rect x="344.73" y="401.17" width="8.57" height="13.97" fill="#efefef"/>
<rect x="354.40" y="401.17" width="8.57" height="13.97" fill="#efefef"/>
<rect x="364.07" y="401.17" width="8.57" height="13.97" fill="#efefef"/>
<rect x="373.74" y="401.17" width="8.57" height="13.97" fill="#efefef"/>
<rect x="112.65" y="416.24" width="8.57" height="13.86" fill="#efefef"/>
<rect x="122.32" y="416.24" width="8.57" height="13.86" fill="#efefef"/>
<rect x="131.99" y="416.24" width="8.57" height="13.86" fill="#efefef"/>
<rect x="141.66" y="416.24" width="8.57" height="13.86" fill="#efefef"/>
<rect x="151.33" y="416.24" width="8.57" height="13.86" fill="#efefef"/>
<rect x="161.00" y="416.24" width="8.57" height="13.86" fill="#efefef"/>
<rect x="170.67" y="416.24" width="8.57" height="13.86" fill="#efefef"/>
<rect x="180.34" y="416.24" width="8.57" height="13.86" fill="#efefef"/>
<rect x="190.01" y="416.24" width="8.57" height="13.86" fill="#efefef"/>
<rect x="199.68" y="416.24" width="8.57" height="13.86" fill="#efefef"/>
<rect x="209.35" y="416.24" width="8.57" height="13.86" fill="#efefef"/>
<rect x="219.02" y="416.24" width="8.57" height="13.86" fill="#efefef"/>
<rect x="228.69" y="416.24" width="8.57" height="13.86" fill="#efefef"/>
<rect x="238.36" y="416.24" width="8.57" height="13.86" fill="#efefef"/>
<rect x="248.03" y="416.24" width="8.57" height="13.86" fill="#efefef"/>
<rect x="257.70" y="416.24" width="8.57" height="13.86" fill="#efefef"/>
<rect x="267.37" y="416.24" width="8.57" height="13.86" fill="#efefef"/>
<rect x="277.04" y="416.24" width="8.57" height="13.86" fill="#efefef"/>
<rect x="286.71" y="416.24" width="8.57" height="13.86" fill="#efefef"/>
<rect x="296.38" y="416.24" width="8.57" height="13.86" fill="#efefef"/>
<rect x="306.05" y="416.24" width="8.57" height="13.86" fill="#efefef"/>
<rect x="315.72" y="416.24" width="8.57" height="13.86" fill="#efefef"/>
<rect x="325.39" y="416.24" width="8.57" height="13.86" fill="#efefef"/>
<rect x="335.06" y="416.24" width="8.57" height="13.86" fill="#efefef"/>
<rect x="344.73" y="416.24" width="8.57" height="13.86" fill="#efefef"/>
<rect x="354.40" y="416.24" width="8.57" height="13.86" fill="#efefef"/>
<rect x="364.07" y="416.24" width="8.57" height="13.86" fill="#efefef"/>
<rect x="373.74" y="416.24" width="8.57" height="13.86" fill="#efefef"/>
<rect x="131.04" y="385.85" width="0.8" height="44.80" fill="#b4b4b4"/>
<rect x="150.38" y="385.85" width="0.8" height="44.80" fill="#b4b4b4"/>
<rect x="169.72" y="385.85" width="0.8" height="44.80" fill="#b4b4b4"/>
<rect x="189.06" y="385.85" width="0.8" height="44.80" fill="#b4b4b4"/>
<rect x="208.40" y="385.85" width="0.8" height="44.80" fill="#b4b4b4"/>
<rect x="227.74" y="385.85" width="0.8" height="44.80" fill="#b4b4b4"/>
<rect x="247.08" y="385.85" width="0.8" height="44.80" fill="#b4b4b4"/>
<rect x="266.42" y="385.85" width="0.8" height="44.80" fill="#b4b4b4"/>
<rect x="285.76" y="385.85" width="0.8" height="44.80" fill="#b4b4b4"/>
<rect x="305.10" y="385.85" width="0.8" height="44.80" fill="#b4b4b4"/>
<rect x="324.44" y="385.85" width="0.8" height="44.80" fill="#b4b4b4"/>
<rect x="343.78" y="385.85" width="0.8" height="44.80" fill="#b4b4b4"/>
<rect x="363.12" y="385.85" width="0.8" height="44.80" fill="#b4b4b4"/>
<rect x="328.07" y="386.05" width="3.2" height="13.77" fill="#7d73ff"/>
<rect x="337.74" y="386.05" width="3.2" height="13.77" fill="#7d73ff"/>
<rect x="347.41" y="386.05" width="3.2" height="13.77" fill="#7d73ff"/>
<rect x="357.08" y="386.05" width="3.2" height="13.77" fill="#7d73ff"/>
<text x="110.8" y="395.89" font-size="7.1" font-style="italic" text-anchor="end">NRAS</text>
<text x="385.2" y="395.64" font-size="6.85">14%</text>
<rect x="289.39" y="401.12" width="3.2" height="13.77" fill="#7d73ff"/>
<rect x="299.06" y="401.12" width="3.2" height="13.77" fill="#7d73ff"/>
<rect x="354.30" y="401.27" width="8.77" height="13.77" fill="#cdc432"/>
<text x="110.8" y="410.96" font-size="7.1" font-style="italic" text-anchor="end">NF1</text>
<text x="385.2" y="410.71" font-size="6.85">11%</text>
<rect x="364.02" y="420.73" width="8.67" height="5.0" fill="#e23206"/>
<rect x="373.69" y="420.73" width="8.67" height="5.0" fill="#e23206"/>
<text x="110.8" y="426.03" font-size="7.1" font-style="italic" text-anchor="end">PTEN</text>
<text x="385.2" y="425.78" font-size="6.85">7%</text>
<rect x="112.40" y="386.15" width="270.66" height="44.20" fill="none" stroke="#9a9a9a" stroke-width="1.1"/>
<rect x="403.40" y="386.15" width="40.90" height="44.20" fill="#fff" stroke="#7a7a7a" stroke-width="0.7"/>
<rect x="403.75" y="389.09" width="7.30" height="7.3" fill="#7d73ff"/>
<rect x="403.75" y="404.16" width="1.82" height="7.3" fill="#cdc432"/>
<rect x="405.57" y="404.16" width="3.65" height="7.3" fill="#7d73ff"/>
<rect x="403.75" y="419.23" width="3.65" height="7.3" fill="#e23206"/>
<rect x="7.6" y="433.15" width="71.0" height="59.20" fill="#efefef" stroke="#858585" stroke-width="0.85"/>
<text x="75.5" y="465.75" font-size="7.85" text-anchor="end">Transcription</text>
<rect x="112.10" y="432.85" width="271.06" height="59.80" fill="#fff"/>
<rect x="112.65" y="433.10" width="8.57" height="13.97" fill="#efefef"/>
<rect x="122.32" y="433.10" width="8.57" height="13.97" fill="#efefef"/>
<rect x="131.99" y="433.10" width="8.57" height="13.97" fill="#efefef"/>
<rect x="141.66" y="433.10" width="8.57" height="13.97" fill="#efefef"/>
<rect x="151.33" y="433.10" width="8.57" height="13.97" fill="#efefef"/>
<rect x="161.00" y="433.10" width="8.57" height="13.97" fill="#efefef"/>
<rect x="170.67" y="433.10" width="8.57" height="13.97" fill="#efefef"/>
<rect x="180.34" y="433.10" width="8.57" height="13.97" fill="#efefef"/>
<rect x="190.01" y="433.10" width="8.57" height="13.97" fill="#efefef"/>
<rect x="199.68" y="433.10" width="8.57" height="13.97" fill="#efefef"/>
<rect x="209.35" y="433.10" width="8.57" height="13.97" fill="#efefef"/>
<rect x="219.02" y="433.10" width="8.57" height="13.97" fill="#efefef"/>
<rect x="228.69" y="433.10" width="8.57" height="13.97" fill="#efefef"/>
<rect x="238.36" y="433.10" width="8.57" height="13.97" fill="#efefef"/>
<rect x="248.03" y="433.10" width="8.57" height="13.97" fill="#efefef"/>
<rect x="257.70" y="433.10" width="8.57" height="13.97" fill="#efefef"/>
<rect x="267.37" y="433.10" width="8.57" height="13.97" fill="#efefef"/>
<rect x="277.04" y="433.10" width="8.57" height="13.97" fill="#efefef"/>
<rect x="286.71" y="433.10" width="8.57" height="13.97" fill="#efefef"/>
<rect x="296.38" y="433.10" width="8.57" height="13.97" fill="#efefef"/>
<rect x="306.05" y="433.10" width="8.57" height="13.97" fill="#efefef"/>
<rect x="315.72" y="433.10" width="8.57" height="13.97" fill="#efefef"/>
<rect x="325.39" y="433.10" width="8.57" height="13.97" fill="#efefef"/>
<rect x="335.06" y="433.10" width="8.57" height="13.97" fill="#efefef"/>
<rect x="344.73" y="433.10" width="8.57" height="13.97" fill="#efefef"/>
<rect x="354.40" y="433.10" width="8.57" height="13.97" fill="#efefef"/>
<rect x="364.07" y="433.10" width="8.57" height="13.97" fill="#efefef"/>
<rect x="373.74" y="433.10" width="8.57" height="13.97" fill="#efefef"/>
<rect x="112.65" y="448.17" width="8.57" height="13.97" fill="#efefef"/>
<rect x="122.32" y="448.17" width="8.57" height="13.97" fill="#efefef"/>
<rect x="131.99" y="448.17" width="8.57" height="13.97" fill="#efefef"/>
<rect x="141.66" y="448.17" width="8.57" height="13.97" fill="#efefef"/>
<rect x="151.33" y="448.17" width="8.57" height="13.97" fill="#efefef"/>
<rect x="161.00" y="448.17" width="8.57" height="13.97" fill="#efefef"/>
<rect x="170.67" y="448.17" width="8.57" height="13.97" fill="#efefef"/>
<rect x="180.34" y="448.17" width="8.57" height="13.97" fill="#efefef"/>
<rect x="190.01" y="448.17" width="8.57" height="13.97" fill="#efefef"/>
<rect x="199.68" y="448.17" width="8.57" height="13.97" fill="#efefef"/>
<rect x="209.35" y="448.17" width="8.57" height="13.97" fill="#efefef"/>
<rect x="219.02" y="448.17" width="8.57" height="13.97" fill="#efefef"/>
<rect x="228.69" y="448.17" width="8.57" height="13.97" fill="#efefef"/>
<rect x="238.36" y="448.17" width="8.57" height="13.97" fill="#efefef"/>
<rect x="248.03" y="448.17" width="8.57" height="13.97" fill="#efefef"/>
<rect x="257.70" y="448.17" width="8.57" height="13.97" fill="#efefef"/>
<rect x="267.37" y="448.17" width="8.57" height="13.97" fill="#efefef"/>
<rect x="277.04" y="448.17" width="8.57" height="13.97" fill="#efefef"/>
<rect x="286.71" y="448.17" width="8.57" height="13.97" fill="#efefef"/>
<rect x="296.38" y="448.17" width="8.57" height="13.97" fill="#efefef"/>
<rect x="306.05" y="448.17" width="8.57" height="13.97" fill="#efefef"/>
<rect x="315.72" y="448.17" width="8.57" height="13.97" fill="#efefef"/>
<rect x="325.39" y="448.17" width="8.57" height="13.97" fill="#efefef"/>
<rect x="335.06" y="448.17" width="8.57" height="13.97" fill="#efefef"/>
<rect x="344.73" y="448.17" width="8.57" height="13.97" fill="#efefef"/>
<rect x="354.40" y="448.17" width="8.57" height="13.97" fill="#efefef"/>
<rect x="364.07" y="448.17" width="8.57" height="13.97" fill="#efefef"/>
<rect x="373.74" y="448.17" width="8.57" height="13.97" fill="#efefef"/>
<rect x="112.65" y="463.24" width="8.57" height="13.97" fill="#efefef"/>
<rect x="122.32" y="463.24" width="8.57" height="13.97" fill="#efefef"/>
<rect x="131.99" y="463.24" width="8.57" height="13.97" fill="#efefef"/>
<rect x="141.66" y="463.24" width="8.57" height="13.97" fill="#efefef"/>
<rect x="151.33" y="463.24" width="8.57" height="13.97" fill="#efefef"/>
<rect x="161.00" y="463.24" width="8.57" height="13.97" fill="#efefef"/>
<rect x="170.67" y="463.24" width="8.57" height="13.97" fill="#efefef"/>
<rect x="180.34" y="463.24" width="8.57" height="13.97" fill="#efefef"/>
<rect x="190.01" y="463.24" width="8.57" height="13.97" fill="#efefef"/>
<rect x="199.68" y="463.24" width="8.57" height="13.97" fill="#efefef"/>
<rect x="209.35" y="463.24" width="8.57" height="13.97" fill="#efefef"/>
<rect x="219.02" y="463.24" width="8.57" height="13.97" fill="#efefef"/>
<rect x="228.69" y="463.24" width="8.57" height="13.97" fill="#efefef"/>
<rect x="238.36" y="463.24" width="8.57" height="13.97" fill="#efefef"/>
<rect x="248.03" y="463.24" width="8.57" height="13.97" fill="#efefef"/>
<rect x="257.70" y="463.24" width="8.57" height="13.97" fill="#efefef"/>
<rect x="267.37" y="463.24" width="8.57" height="13.97" fill="#efefef"/>
<rect x="277.04" y="463.24" width="8.57" height="13.97" fill="#efefef"/>
<rect x="286.71" y="463.24" width="8.57" height="13.97" fill="#efefef"/>
<rect x="296.38" y="463.24" width="8.57" height="13.97" fill="#efefef"/>
<rect x="306.05" y="463.24" width="8.57" height="13.97" fill="#efefef"/>
<rect x="315.72" y="463.24" width="8.57" height="13.97" fill="#efefef"/>
<rect x="325.39" y="463.24" width="8.57" height="13.97" fill="#efefef"/>
<rect x="335.06" y="463.24" width="8.57" height="13.97" fill="#efefef"/>
<rect x="344.73" y="463.24" width="8.57" height="13.97" fill="#efefef"/>
<rect x="354.40" y="463.24" width="8.57" height="13.97" fill="#efefef"/>
<rect x="364.07" y="463.24" width="8.57" height="13.97" fill="#efefef"/>
<rect x="373.74" y="463.24" width="8.57" height="13.97" fill="#efefef"/>
<rect x="112.65" y="478.31" width="8.57" height="13.79" fill="#efefef"/>
<rect x="122.32" y="478.31" width="8.57" height="13.79" fill="#efefef"/>
<rect x="131.99" y="478.31" width="8.57" height="13.79" fill="#efefef"/>
<rect x="141.66" y="478.31" width="8.57" height="13.79" fill="#efefef"/>
<rect x="151.33" y="478.31" width="8.57" height="13.79" fill="#efefef"/>
<rect x="161.00" y="478.31" width="8.57" height="13.79" fill="#efefef"/>
<rect x="170.67" y="478.31" width="8.57" height="13.79" fill="#efefef"/>
<rect x="180.34" y="478.31" width="8.57" height="13.79" fill="#efefef"/>
<rect x="190.01" y="478.31" width="8.57" height="13.79" fill="#efefef"/>
<rect x="199.68" y="478.31" width="8.57" height="13.79" fill="#efefef"/>
<rect x="209.35" y="478.31" width="8.57" height="13.79" fill="#efefef"/>
<rect x="219.02" y="478.31" width="8.57" height="13.79" fill="#efefef"/>
<rect x="228.69" y="478.31" width="8.57" height="13.79" fill="#efefef"/>
<rect x="238.36" y="478.31" width="8.57" height="13.79" fill="#efefef"/>
<rect x="248.03" y="478.31" width="8.57" height="13.79" fill="#efefef"/>
<rect x="257.70" y="478.31" width="8.57" height="13.79" fill="#efefef"/>
<rect x="267.37" y="478.31" width="8.57" height="13.79" fill="#efefef"/>
<rect x="277.04" y="478.31" width="8.57" height="13.79" fill="#efefef"/>
<rect x="286.71" y="478.31" width="8.57" height="13.79" fill="#efefef"/>
<rect x="296.38" y="478.31" width="8.57" height="13.79" fill="#efefef"/>
<rect x="306.05" y="478.31" width="8.57" height="13.79" fill="#efefef"/>
<rect x="315.72" y="478.31" width="8.57" height="13.79" fill="#efefef"/>
<rect x="325.39" y="478.31" width="8.57" height="13.79" fill="#efefef"/>
<rect x="335.06" y="478.31" width="8.57" height="13.79" fill="#efefef"/>
<rect x="344.73" y="478.31" width="8.57" height="13.79" fill="#efefef"/>
<rect x="354.40" y="478.31" width="8.57" height="13.79" fill="#efefef"/>
<rect x="364.07" y="478.31" width="8.57" height="13.79" fill="#efefef"/>
<rect x="373.74" y="478.31" width="8.57" height="13.79" fill="#efefef"/>
<rect x="131.04" y="432.85" width="0.8" height="59.80" fill="#b4b4b4"/>
<rect x="150.38" y="432.85" width="0.8" height="59.80" fill="#b4b4b4"/>
<rect x="169.72" y="432.85" width="0.8" height="59.80" fill="#b4b4b4"/>
<rect x="189.06" y="432.85" width="0.8" height="59.80" fill="#b4b4b4"/>
<rect x="208.40" y="432.85" width="0.8" height="59.80" fill="#b4b4b4"/>
<rect x="227.74" y="432.85" width="0.8" height="59.80" fill="#b4b4b4"/>
<rect x="247.08" y="432.85" width="0.8" height="59.80" fill="#b4b4b4"/>
<rect x="266.42" y="432.85" width="0.8" height="59.80" fill="#b4b4b4"/>
<rect x="285.76" y="432.85" width="0.8" height="59.80" fill="#b4b4b4"/>
<rect x="305.10" y="432.85" width="0.8" height="59.80" fill="#b4b4b4"/>
<rect x="324.44" y="432.85" width="0.8" height="59.80" fill="#b4b4b4"/>
<rect x="343.78" y="432.85" width="0.8" height="59.80" fill="#b4b4b4"/>
<rect x="363.12" y="432.85" width="0.8" height="59.80" fill="#b4b4b4"/>
<rect x="189.91" y="433.20" width="8.77" height="13.77" fill="#cdc432"/>
<rect x="199.58" y="433.20" width="8.77" height="13.77" fill="#cdc432"/>
<rect x="250.72" y="433.05" width="3.2" height="13.77" fill="#7d73ff"/>
<rect x="260.38" y="433.05" width="3.2" height="13.77" fill="#7d73ff"/>
<rect x="328.07" y="433.05" width="3.2" height="13.77" fill="#7d73ff"/>
<rect x="337.74" y="433.05" width="3.2" height="13.77" fill="#7d73ff"/>
<text x="110.8" y="442.89" font-size="7.1" font-style="italic" text-anchor="end">RUNX1</text>
<text x="385.2" y="442.64" font-size="6.85">21%</text>
<rect x="131.94" y="452.66" width="8.67" height="5.0" fill="#e23206"/>
<rect x="141.61" y="452.66" width="8.67" height="5.0" fill="#e23206"/>
<rect x="189.91" y="448.27" width="8.77" height="13.77" fill="#cdc432"/>
<text x="110.8" y="457.96" font-size="7.1" font-style="italic" text-anchor="end">BCOR</text>
<text x="385.2" y="457.71" font-size="6.85">11%</text>
<rect x="170.62" y="467.73" width="8.67" height="5.0" fill="#e23206"/>
<rect x="180.29" y="467.73" width="8.67" height="5.0" fill="#e23206"/>
<text x="110.8" y="473.03" font-size="7.1" font-style="italic" text-anchor="end">PHF6</text>
<text x="385.2" y="472.78" font-size="6.85">7%</text>
<rect x="344.68" y="482.80" width="8.67" height="5.0" fill="#e23206"/>
<rect x="354.35" y="482.80" width="8.67" height="5.0" fill="#e23206"/>
<text x="110.8" y="488.10" font-size="7.1" font-style="italic" text-anchor="end">CUX1</text>
<text x="385.2" y="487.85" font-size="6.85">7%</text>
<rect x="112.40" y="433.15" width="270.66" height="59.20" fill="none" stroke="#9a9a9a" stroke-width="1.1"/>
<rect x="403.40" y="433.15" width="40.90" height="59.20" fill="#fff" stroke="#7a7a7a" stroke-width="0.7"/>
<rect x="403.75" y="436.09" width="3.65" height="7.3" fill="#cdc432"/>
<rect x="407.40" y="436.09" width="7.30" height="7.3" fill="#7d73ff"/>
<rect x="403.75" y="451.16" width="1.82" height="7.3" fill="#cdc432"/>
<rect x="405.57" y="451.16" width="3.65" height="7.3" fill="#e23206"/>
<rect x="403.75" y="466.23" width="3.65" height="7.3" fill="#e23206"/>
<rect x="403.75" y="481.30" width="3.65" height="7.3" fill="#e23206"/>
<path d="M403.75 226.4V224.9M422.00 226.4V224.9M440.25 226.4V224.9" stroke="#333" stroke-width="0.6" fill="none"/>
<text transform="translate(405.85 223.2) rotate(-90)" font-size="5.9">0</text>
<text transform="translate(424.10 223.2) rotate(-90)" font-size="5.9">10</text>
<text transform="translate(442.35 223.2) rotate(-90)" font-size="5.9">20</text>
<text x="423.3" y="204.2" font-size="6.1" text-anchor="middle">Number of</text>
<text x="423.3" y="211.3" font-size="6.1" text-anchor="middle">mutations</text>
<rect x="111.90" y="492.15" width="271.66" height="3.45" fill="#cfcfcf"/>
<rect x="112.40" y="495.20" width="270.66" height="40.40" fill="#fff" stroke="#9a9a9a" stroke-width="1.0"/>
<rect x="114.48" y="529.92" width="4.9" height="5.48" fill="#7d73ff"/>
<rect x="114.48" y="524.44" width="4.9" height="5.48" fill="#04045c"/>
<rect x="124.15" y="529.92" width="4.9" height="5.48" fill="#7d73ff"/>
<rect x="124.15" y="524.44" width="4.9" height="5.48" fill="#04045c"/>
<rect x="133.83" y="524.44" width="4.9" height="10.96" fill="#e23206"/>
<rect x="133.83" y="518.96" width="4.9" height="5.48" fill="#7d73ff"/>
<rect x="143.50" y="529.92" width="4.9" height="5.48" fill="#e23206"/>
<rect x="153.17" y="524.44" width="4.9" height="10.96" fill="#e23206"/>
<rect x="153.17" y="518.96" width="4.9" height="5.48" fill="#7a1c0c"/>
<rect x="162.84" y="524.44" width="4.9" height="10.96" fill="#e23206"/>
<rect x="162.84" y="518.96" width="4.9" height="5.48" fill="#7a1c0c"/>
<rect x="172.51" y="524.44" width="4.9" height="10.96" fill="#cdc432"/>
<rect x="172.51" y="513.48" width="4.9" height="10.96" fill="#e23206"/>
<rect x="172.51" y="508.00" width="4.9" height="5.48" fill="#7d73ff"/>
<rect x="172.51" y="502.52" width="4.9" height="5.48" fill="#7a1c0c"/>
<rect x="182.18" y="524.44" width="4.9" height="10.96" fill="#cdc432"/>
<rect x="182.18" y="513.48" width="4.9" height="10.96" fill="#e23206"/>
<rect x="182.18" y="508.00" width="4.9" height="5.48" fill="#7d73ff"/>
<rect x="182.18" y="502.52" width="4.9" height="5.48" fill="#7a1c0c"/>
<rect x="191.84" y="518.96" width="4.9" height="16.44" fill="#cdc432"/>
<rect x="191.84" y="513.48" width="4.9" height="5.48" fill="#7d73ff"/>
<rect x="201.52" y="524.44" width="4.9" height="10.96" fill="#cdc432"/>
<rect x="201.52" y="518.96" width="4.9" height="5.48" fill="#7d73ff"/>
<rect x="230.53" y="529.92" width="4.9" height="5.48" fill="#cdc432"/>
<rect x="230.53" y="518.96" width="4.9" height="10.96" fill="#7d73ff"/>
<rect x="240.20" y="529.92" width="4.9" height="5.48" fill="#cdc432"/>
<rect x="240.20" y="518.96" width="4.9" height="10.96" fill="#7d73ff"/>
<rect x="249.87" y="524.44" width="4.9" height="10.96" fill="#e23206"/>
<rect x="249.87" y="513.48" width="4.9" height="10.96" fill="#7d73ff"/>
<rect x="259.53" y="524.44" width="4.9" height="10.96" fill="#e23206"/>
<rect x="259.53" y="513.48" width="4.9" height="10.96" fill="#7d73ff"/>
<rect x="269.20" y="524.44" width="4.9" height="10.96" fill="#7d73ff"/>
<rect x="278.88" y="524.44" width="4.9" height="10.96" fill="#7d73ff"/>
<rect x="288.54" y="524.44" width="4.9" height="10.96" fill="#7d73ff"/>
<rect x="298.21" y="524.44" width="4.9" height="10.96" fill="#7d73ff"/>
<rect x="307.88" y="529.92" width="4.9" height="5.48" fill="#cdc432"/>
<rect x="317.55" y="529.92" width="4.9" height="5.48" fill="#cdc432"/>
<rect x="327.23" y="524.44" width="4.9" height="10.96" fill="#cdc432"/>
<rect x="327.23" y="508.00" width="4.9" height="16.44" fill="#7d73ff"/>
<rect x="336.89" y="524.44" width="4.9" height="10.96" fill="#cdc432"/>
<rect x="336.89" y="497.04" width="4.9" height="27.40" fill="#7d73ff"/>
<rect x="346.56" y="524.44" width="4.9" height="10.96" fill="#e23206"/>
<rect x="346.56" y="513.48" width="4.9" height="10.96" fill="#7d73ff"/>
<rect x="356.24" y="529.92" width="4.9" height="5.48" fill="#cdc432"/>
<rect x="356.24" y="518.96" width="4.9" height="10.96" fill="#e23206"/>
<rect x="356.24" y="508.00" width="4.9" height="10.96" fill="#7d73ff"/>
<rect x="365.90" y="529.92" width="4.9" height="5.48" fill="#cdc432"/>
<rect x="365.90" y="524.44" width="4.9" height="5.48" fill="#e23206"/>
<rect x="365.90" y="518.96" width="4.9" height="5.48" fill="#6e6414"/>
<rect x="375.57" y="529.92" width="4.9" height="5.48" fill="#cdc432"/>
<rect x="375.57" y="524.44" width="4.9" height="5.48" fill="#e23206"/>
<rect x="375.57" y="518.96" width="4.9" height="5.48" fill="#6e6414"/>
<rect x="112.00" y="495.20" width="0.9" height="40.70" fill="#8a8a8a"/>
<rect x="110.30" y="535.10" width="1.8" height="0.6" fill="#333"/>
<text x="108.4" y="537.70" font-size="6.4" text-anchor="end">0</text>
<rect x="110.30" y="524.14" width="1.8" height="0.6" fill="#333"/>
<text x="108.4" y="526.74" font-size="6.4" text-anchor="end">2</text>
<rect x="110.30" y="513.18" width="1.8" height="0.6" fill="#333"/>
<text x="108.4" y="515.78" font-size="6.4" text-anchor="end">4</text>
<rect x="110.30" y="502.22" width="1.8" height="0.6" fill="#333"/>
<text x="108.4" y="504.82" font-size="6.4" text-anchor="end">6</text>
<text x="96.8" y="516.4" font-size="6.1" text-anchor="end">Number of</text>
<text x="96.8" y="523.4" font-size="6.1" text-anchor="end">mutations</text>
<text x="450.70" y="230.10" font-size="6.9" font-weight="bold" fill="#000">Alterations</text>
<rect x="450.70000000000005" y="234.85" width="7.1" height="7.1" fill="#cdc432"/>
<text x="460.1" y="240.85" font-size="7">frameshift</text>
<rect x="450.40000000000003" y="242.35" width="7.6" height="7.8" fill="#f4f4f4"/><rect x="450.70000000000005" y="245.00" width="7.0" height="2.5" fill="#e23206"/>
<text x="460.1" y="248.70" font-size="7">nonsense</text>
<rect x="450.40000000000003" y="250.20" width="7.6" height="7.8" fill="#f4f4f4"/><rect x="453.05" y="250.70" width="2.3" height="6.8" fill="#7d73ff"/>
<text x="460.1" y="256.55" font-size="7">missense</text>
<rect x="450.20" y="257.95" width="8.0" height="7.9" fill="#cdc432" stroke="#4a4608" stroke-width="0.9"/>
<text x="460.1" y="264.40" font-size="7">frameshift multi–hit</text>
<rect x="450.50" y="268.45" width="7.4" height="2.9" fill="#e23206" stroke="#7a1c0c" stroke-width="0.9"/>
<text x="460.1" y="272.30" font-size="7">nonsense multi–hit</text>
<rect x="452.80" y="274.35" width="2.8" height="6.9" fill="#e4e0ff" stroke="#04045c" stroke-width="1.25"/>
<text x="460.1" y="280.20" font-size="7">missense multi–hit</text>
<text x="452.10" y="293.30" font-size="6.9" font-weight="bold" fill="#000">Response</text>
<rect x="452.1" y="297.65" width="7.1" height="7.1" fill="#c1d66c"/>
<text x="461.7" y="303.65" font-size="7">Responder</text>
<rect x="452.1" y="305.65" width="7.1" height="7.1" fill="#ad5f7f"/>
<text x="461.7" y="311.65" font-size="7">Nonresponder</text>
<text x="452.10" y="326.00" font-size="6.9" font-weight="bold" fill="#000">Patient</text>
<rect x="452.1" y="330.30" width="7.1" height="7.1" fill="#b8393f"/>
<text x="461.7" y="336.30" font-size="7">01</text>
<rect x="452.1" y="338.25" width="7.1" height="7.1" fill="#5b9be3"/>
<text x="461.7" y="344.25" font-size="7">02</text>
<rect x="452.1" y="346.19" width="7.1" height="7.1" fill="#b54a84"/>
<text x="461.7" y="352.19" font-size="7">03</text>
<rect x="452.1" y="354.13" width="7.1" height="7.1" fill="#2b3a7c"/>
<text x="461.7" y="360.13" font-size="7">04</text>
<rect x="452.1" y="362.08" width="7.1" height="7.1" fill="#8fd9b2"/>
<text x="461.7" y="368.08" font-size="7">05</text>
<rect x="452.1" y="370.03" width="7.1" height="7.1" fill="#a67fdc"/>
<text x="461.7" y="376.03" font-size="7">06</text>
<rect x="452.1" y="377.97" width="7.1" height="7.1" fill="#c25e22"/>
<text x="461.7" y="383.97" font-size="7">07</text>
<rect x="452.1" y="385.92" width="7.1" height="7.1" fill="#b7d050"/>
<text x="461.7" y="391.92" font-size="7">08</text>
<rect x="452.1" y="393.86" width="7.1" height="7.1" fill="#c5b3dc"/>
<text x="461.7" y="399.86" font-size="7">09</text>
<rect x="452.1" y="401.81" width="7.1" height="7.1" fill="#84e6f2"/>
<text x="461.7" y="407.81" font-size="7">10</text>
<rect x="452.1" y="409.75" width="7.1" height="7.1" fill="#cbb432"/>
<text x="461.7" y="415.75" font-size="7">11</text>
<rect x="452.1" y="417.69" width="7.1" height="7.1" fill="#4a0a2c"/>
<text x="461.7" y="423.69" font-size="7">12</text>
<rect x="452.1" y="425.64" width="7.1" height="7.1" fill="#55a03c"/>
<text x="461.7" y="431.64" font-size="7">13</text>
<rect x="452.1" y="433.58" width="7.1" height="7.1" fill="#8c4f4f"/>
<text x="461.7" y="439.58" font-size="7">14</text>
<text x="452.10" y="454.00" font-size="6.9" font-weight="bold" fill="#000">Condition</text>
<rect x="452.1" y="458.35" width="7.1" height="7.1" fill="#c3c7d2"/>
<text x="461.7" y="464.35" font-size="7">Diagnosis</text>
<rect x="452.1" y="466.35" width="7.1" height="7.1" fill="#2f4a92"/>
<text x="461.7" y="472.35" font-size="7">After treatment</text>
<text x="452.10" y="487.10" font-size="6.9" font-weight="bold" fill="#000">Sex</text>
<rect x="452.1" y="491.45" width="7.1" height="7.1" fill="#b896ea"/>
<text x="461.7" y="497.45" font-size="7">F</text>
<rect x="452.1" y="499.45" width="7.1" height="7.1" fill="#6da57a"/>
<text x="461.7" y="505.45" font-size="7">M</text>
<rect x="194.35" y="576.40" width="9.5" height="34.00" fill="#b9d26b"/>
<text x="199.10" y="573.80" font-size="6.4" text-anchor="middle">2</text>
<rect x="204.77" y="576.40" width="9.5" height="34.00" fill="#a85a7a"/>
<text x="209.52" y="573.80" font-size="6.4" text-anchor="middle">2</text>
<rect x="215.19" y="593.40" width="9.5" height="17.00" fill="#a85a7a"/>
<text x="219.94" y="590.80" font-size="6.4" text-anchor="middle">1</text>
<rect x="225.61" y="593.40" width="9.5" height="17.00" fill="#a85a7a"/>
<text x="230.36" y="590.80" font-size="6.4" text-anchor="middle">1</text>
<rect x="236.03" y="593.40" width="9.5" height="17.00" fill="#a85a7a"/>
<text x="240.78" y="590.80" font-size="6.4" text-anchor="middle">1</text>
<rect x="246.45" y="593.40" width="9.5" height="17.00" fill="#b9d26b"/>
<text x="251.20" y="590.80" font-size="6.4" text-anchor="middle">1</text>
<rect x="256.87" y="593.40" width="9.5" height="17.00" fill="#b9d26b"/>
<text x="261.62" y="590.80" font-size="6.4" text-anchor="middle">1</text>
<rect x="267.29" y="593.40" width="9.5" height="17.00" fill="#b9d26b"/>
<text x="272.04" y="590.80" font-size="6.4" text-anchor="middle">1</text>
<rect x="277.71" y="593.40" width="9.5" height="17.00" fill="#b9d26b"/>
<text x="282.46" y="590.80" font-size="6.4" text-anchor="middle">1</text>
<rect x="288.13" y="593.40" width="9.5" height="17.00" fill="#a85a7a"/>
<text x="292.88" y="590.80" font-size="6.4" text-anchor="middle">1</text>
<rect x="298.55" y="593.40" width="9.5" height="17.00" fill="#b9d26b"/>
<text x="303.30" y="590.80" font-size="6.4" text-anchor="middle">1</text>
<text x="184.4" y="590.0" font-size="7.95" text-anchor="end">Number of</text>
<text x="184.4" y="599.2" font-size="7.95" text-anchor="end">patients</text>
<rect x="319.7" y="593.1" width="8.0" height="8.05" fill="#a85a7a"/>
<rect x="319.7" y="601.1" width="8.0" height="8.05" fill="#b9d26b"/>
<text x="331.2" y="599.4" font-size="5.7">Nonresponders</text>
<text x="331.2" y="607.7" font-size="5.7">Responders</text>
<rect x="193.6" y="623.00" width="115.6" height="10.0" fill="#f1f1f1"/>
<text x="189.3" y="630.70" font-size="7.75" text-anchor="end">Epigenetic modifiers</text>
<text x="189.3" y="640.60" font-size="7.75" text-anchor="end">Transcription</text>
<rect x="193.6" y="643.00" width="115.6" height="10.0" fill="#f1f1f1"/>
<text x="189.3" y="650.70" font-size="7.75" text-anchor="end">RNA Splicing</text>
<text x="189.3" y="660.70" font-size="7.75" text-anchor="end">Signaling</text>
<rect x="193.6" y="663.00" width="115.6" height="10.0" fill="#f1f1f1"/>
<text x="189.3" y="670.70" font-size="7.75" text-anchor="end">DNA repair</text>
<text x="189.3" y="680.70" font-size="7.75" text-anchor="end">Cohesin complex</text>
<circle cx="199.10" cy="648.00" r="3.45" fill="#dcdcdc" stroke="#c2c2c2" stroke-width="0.5"/>
<circle cx="199.10" cy="658.00" r="3.45" fill="#dcdcdc" stroke="#c2c2c2" stroke-width="0.5"/>
<circle cx="199.10" cy="668.00" r="3.45" fill="#dcdcdc" stroke="#c2c2c2" stroke-width="0.5"/>
<circle cx="199.10" cy="678.00" r="3.45" fill="#dcdcdc" stroke="#c2c2c2" stroke-width="0.5"/>
<circle cx="209.52" cy="637.90" r="3.45" fill="#dcdcdc" stroke="#c2c2c2" stroke-width="0.5"/>
<circle cx="209.52" cy="648.00" r="3.45" fill="#dcdcdc" stroke="#c2c2c2" stroke-width="0.5"/>
<circle cx="209.52" cy="658.00" r="3.45" fill="#dcdcdc" stroke="#c2c2c2" stroke-width="0.5"/>
<circle cx="209.52" cy="668.00" r="3.45" fill="#dcdcdc" stroke="#c2c2c2" stroke-width="0.5"/>
<circle cx="209.52" cy="678.00" r="3.45" fill="#dcdcdc" stroke="#c2c2c2" stroke-width="0.5"/>
<circle cx="219.94" cy="628.00" r="3.45" fill="#dcdcdc" stroke="#c2c2c2" stroke-width="0.5"/>
<circle cx="219.94" cy="668.00" r="3.45" fill="#dcdcdc" stroke="#c2c2c2" stroke-width="0.5"/>
<circle cx="230.36" cy="628.00" r="3.45" fill="#dcdcdc" stroke="#c2c2c2" stroke-width="0.5"/>
<circle cx="230.36" cy="637.90" r="3.45" fill="#dcdcdc" stroke="#c2c2c2" stroke-width="0.5"/>
<circle cx="230.36" cy="668.00" r="3.45" fill="#dcdcdc" stroke="#c2c2c2" stroke-width="0.5"/>
<circle cx="230.36" cy="678.00" r="3.45" fill="#dcdcdc" stroke="#c2c2c2" stroke-width="0.5"/>
<circle cx="240.78" cy="668.00" r="3.45" fill="#dcdcdc" stroke="#c2c2c2" stroke-width="0.5"/>
<circle cx="240.78" cy="678.00" r="3.45" fill="#dcdcdc" stroke="#c2c2c2" stroke-width="0.5"/>
<circle cx="251.20" cy="658.00" r="3.45" fill="#dcdcdc" stroke="#c2c2c2" stroke-width="0.5"/>
<circle cx="251.20" cy="668.00" r="3.45" fill="#dcdcdc" stroke="#c2c2c2" stroke-width="0.5"/>
<circle cx="261.62" cy="658.00" r="3.45" fill="#dcdcdc" stroke="#c2c2c2" stroke-width="0.5"/>
<circle cx="261.62" cy="668.00" r="3.45" fill="#dcdcdc" stroke="#c2c2c2" stroke-width="0.5"/>
<circle cx="261.62" cy="678.00" r="3.45" fill="#dcdcdc" stroke="#c2c2c2" stroke-width="0.5"/>
<circle cx="272.04" cy="637.90" r="3.45" fill="#dcdcdc" stroke="#c2c2c2" stroke-width="0.5"/>
<circle cx="272.04" cy="658.00" r="3.45" fill="#dcdcdc" stroke="#c2c2c2" stroke-width="0.5"/>
<circle cx="272.04" cy="668.00" r="3.45" fill="#dcdcdc" stroke="#c2c2c2" stroke-width="0.5"/>
<circle cx="272.04" cy="678.00" r="3.45" fill="#dcdcdc" stroke="#c2c2c2" stroke-width="0.5"/>
<circle cx="282.46" cy="637.90" r="3.45" fill="#dcdcdc" stroke="#c2c2c2" stroke-width="0.5"/>
<circle cx="282.46" cy="648.00" r="3.45" fill="#dcdcdc" stroke="#c2c2c2" stroke-width="0.5"/>
<circle cx="282.46" cy="658.00" r="3.45" fill="#dcdcdc" stroke="#c2c2c2" stroke-width="0.5"/>
<circle cx="282.46" cy="678.00" r="3.45" fill="#dcdcdc" stroke="#c2c2c2" stroke-width="0.5"/>
<circle cx="292.88" cy="628.00" r="3.45" fill="#dcdcdc" stroke="#c2c2c2" stroke-width="0.5"/>
<circle cx="292.88" cy="637.90" r="3.45" fill="#dcdcdc" stroke="#c2c2c2" stroke-width="0.5"/>
<circle cx="292.88" cy="648.00" r="3.45" fill="#dcdcdc" stroke="#c2c2c2" stroke-width="0.5"/>
<circle cx="292.88" cy="678.00" r="3.45" fill="#dcdcdc" stroke="#c2c2c2" stroke-width="0.5"/>
<circle cx="303.30" cy="628.00" r="3.45" fill="#dcdcdc" stroke="#c2c2c2" stroke-width="0.5"/>
<circle cx="303.30" cy="637.90" r="3.45" fill="#dcdcdc" stroke="#c2c2c2" stroke-width="0.5"/>
<circle cx="303.30" cy="648.00" r="3.45" fill="#dcdcdc" stroke="#c2c2c2" stroke-width="0.5"/>
<circle cx="303.30" cy="658.00" r="3.45" fill="#dcdcdc" stroke="#c2c2c2" stroke-width="0.5"/>
<circle cx="303.30" cy="678.00" r="3.45" fill="#dcdcdc" stroke="#c2c2c2" stroke-width="0.5"/>
<path d="M199.10 628.00V637.90" stroke="#111" stroke-width="0.9"/>
<circle cx="199.10" cy="628.00" r="3.85" fill="#000"/>
<circle cx="199.10" cy="637.90" r="3.85" fill="#000"/>
<circle cx="209.52" cy="628.00" r="3.85" fill="#000"/>
<path d="M219.94 637.90V678.00" stroke="#111" stroke-width="0.9"/>
<circle cx="219.94" cy="637.90" r="3.85" fill="#000"/>
<circle cx="219.94" cy="648.00" r="3.85" fill="#000"/>
<circle cx="219.94" cy="658.00" r="3.85" fill="#000"/>
<circle cx="219.94" cy="678.00" r="3.85" fill="#000"/>
<path d="M230.36 648.00V658.00" stroke="#111" stroke-width="0.9"/>
<circle cx="230.36" cy="648.00" r="3.85" fill="#000"/>
<circle cx="230.36" cy="658.00" r="3.85" fill="#000"/>
<path d="M240.78 628.00V658.00" stroke="#111" stroke-width="0.9"/>
<circle cx="240.78" cy="628.00" r="3.85" fill="#000"/>
<circle cx="240.78" cy="637.90" r="3.85" fill="#000"/>
<circle cx="240.78" cy="648.00" r="3.85" fill="#000"/>
<circle cx="240.78" cy="658.00" r="3.85" fill="#000"/>
<path d="M251.20 628.00V678.00" stroke="#111" stroke-width="0.9"/>
<circle cx="251.20" cy="628.00" r="3.85" fill="#000"/>
<circle cx="251.20" cy="637.90" r="3.85" fill="#000"/>
<circle cx="251.20" cy="648.00" r="3.85" fill="#000"/>
<circle cx="251.20" cy="678.00" r="3.85" fill="#000"/>
<path d="M261.62 628.00V648.00" stroke="#111" stroke-width="0.9"/>
<circle cx="261.62" cy="628.00" r="3.85" fill="#000"/>
<circle cx="261.62" cy="637.90" r="3.85" fill="#000"/>
<circle cx="261.62" cy="648.00" r="3.85" fill="#000"/>
<path d="M272.04 628.00V648.00" stroke="#111" stroke-width="0.9"/>
<circle cx="272.04" cy="628.00" r="3.85" fill="#000"/>
<circle cx="272.04" cy="648.00" r="3.85" fill="#000"/>
<path d="M282.46 628.00V668.00" stroke="#111" stroke-width="0.9"/>
<circle cx="282.46" cy="628.00" r="3.85" fill="#000"/>
<circle cx="282.46" cy="668.00" r="3.85" fill="#000"/>
<path d="M292.88 658.00V668.00" stroke="#111" stroke-width="0.9"/>
<circle cx="292.88" cy="658.00" r="3.85" fill="#000"/>
<circle cx="292.88" cy="668.00" r="3.85" fill="#000"/>
<circle cx="303.30" cy="668.00" r="3.85" fill="#000"/>
</svg>
</body>
</html>
